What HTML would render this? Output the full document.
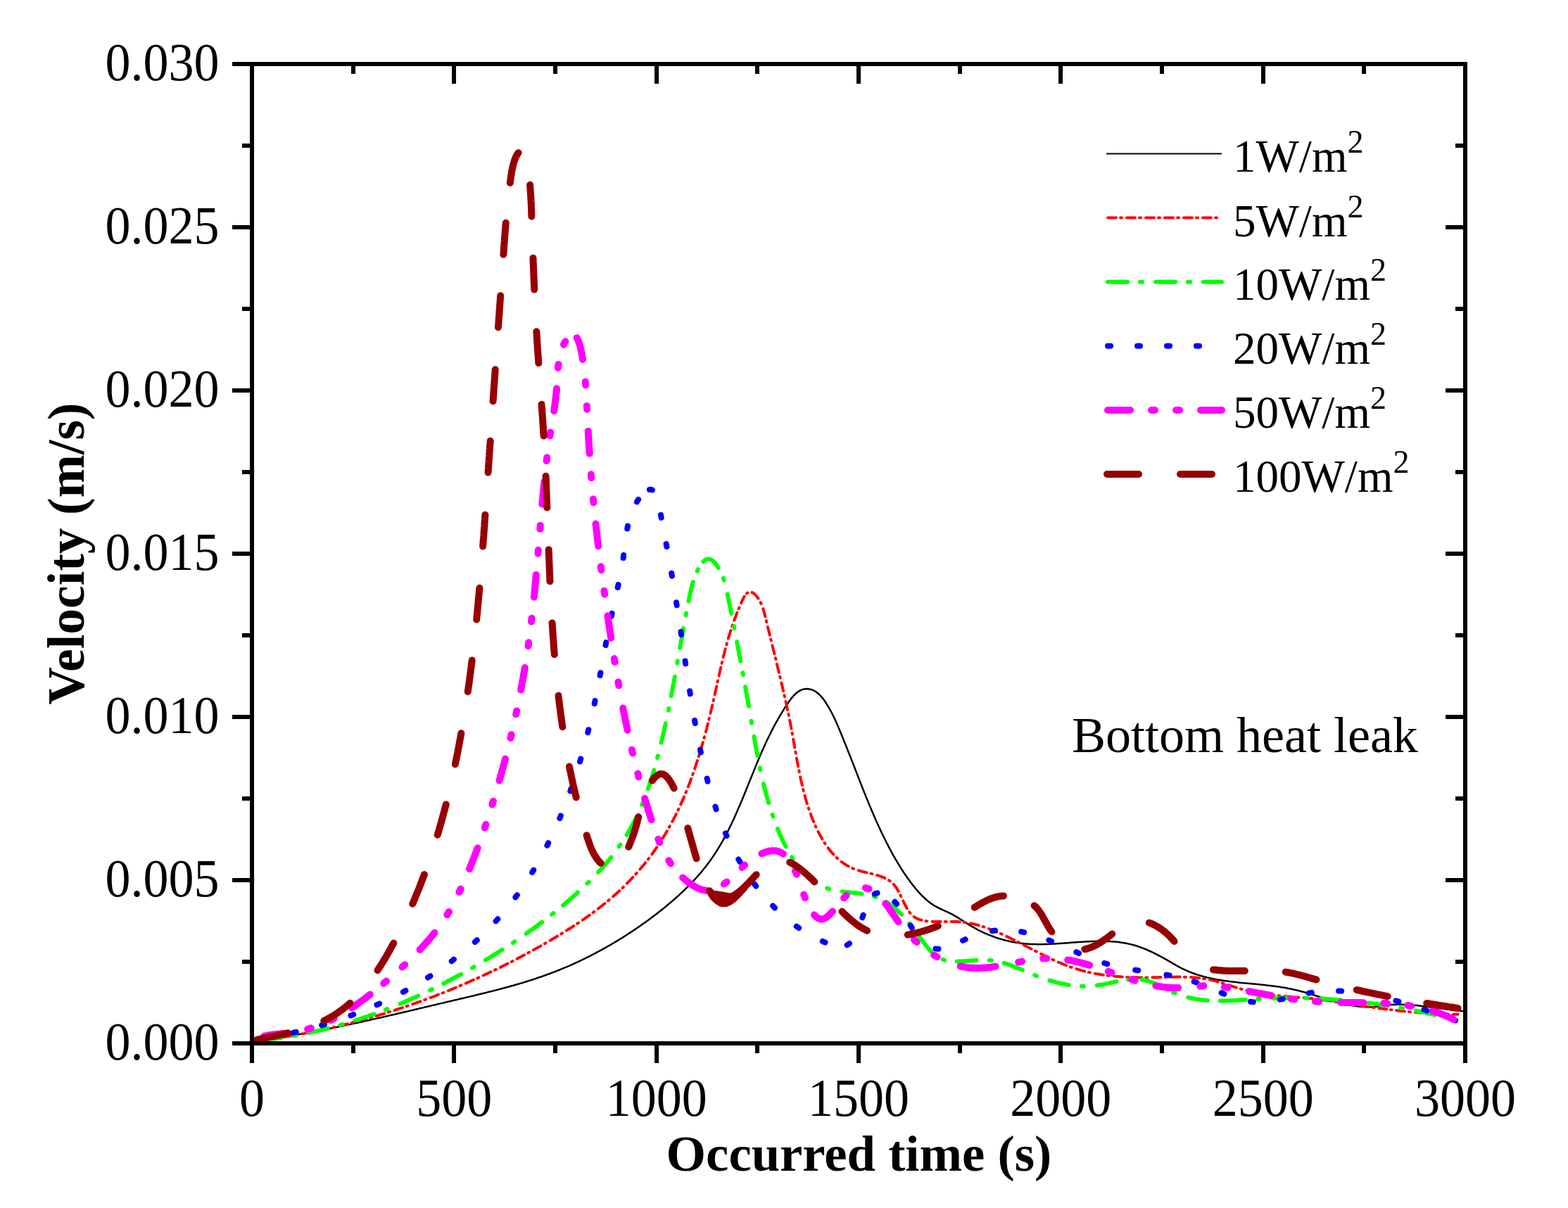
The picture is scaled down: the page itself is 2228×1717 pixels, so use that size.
<!DOCTYPE html>
<html><head><meta charset="utf-8"><style>html,body{margin:0;padding:0;background:#fff;}svg{display:block;}</style></head>
<body>
<svg width="2228" height="1717" viewBox="0 0 2228 1717">
<rect width="2228" height="1717" fill="#fff"/>
<defs><clipPath id="pc"><rect x="358" y="91" width="1724" height="1392"/></clipPath></defs>
<g clip-path="url(#pc)" fill="none" stroke-linejoin="round">
<path d="M360.1 1479.7L362.6 1479.4L365.0 1479.1L367.5 1478.8L370.0 1478.4L372.5 1478.1L375.0 1477.8L377.4 1477.4L379.9 1477.1L382.4 1476.8L384.9 1476.4L387.3 1476.1L389.8 1475.7L392.3 1475.3L394.8 1475.0L397.2 1474.6L399.7 1474.2L402.2 1473.8L404.6 1473.4L407.1 1473.0L409.6 1472.7L412.0 1472.3L414.5 1471.8L417.0 1471.4L419.4 1471.0L421.9 1470.6L424.3 1470.2L426.8 1469.8L429.3 1469.3L431.7 1468.9L434.2 1468.5L436.6 1468.0L439.1 1467.6L441.5 1467.1L444.0 1466.7L446.4 1466.2L448.9 1465.8L451.3 1465.3L453.8 1464.8L456.2 1464.4L458.7 1463.9L461.1 1463.4L463.6 1462.9L466.0 1462.4L468.5 1462.0L470.9 1461.5L473.4 1461.0L475.8 1460.5L478.3 1460.0L480.7 1459.5L483.1 1459.0L485.6 1458.5L488.0 1458.0L490.5 1457.4L492.9 1456.9L495.3 1456.4L497.8 1455.9L500.2 1455.4L502.7 1454.8L505.1 1454.3L507.5 1453.8L510.0 1453.3L512.4 1452.7L514.8 1452.2L517.3 1451.6L519.7 1451.1L522.2 1450.6L524.6 1450.0L527.0 1449.5L529.5 1448.9L531.9 1448.4L534.3 1447.8L536.8 1447.3L539.2 1446.7L541.6 1446.2L544.1 1445.6L546.5 1445.1L548.9 1444.5L551.4 1443.9L553.8 1443.4L556.2 1442.8L558.7 1442.2L561.1 1441.7L563.5 1441.1L566.0 1440.5L568.4 1440.0L570.8 1439.4L573.3 1438.8L575.7 1438.2L578.1 1437.7L580.6 1437.1L583.0 1436.5L585.4 1436.0L587.9 1435.4L590.3 1434.8L592.7 1434.2L595.1 1433.6L597.6 1433.1L600.0 1432.5L602.4 1431.9L604.9 1431.3L607.3 1430.8L609.7 1430.2L612.2 1429.6L614.6 1429.0L617.0 1428.4L619.5 1427.9L621.9 1427.3L624.3 1426.7L626.8 1426.1L629.2 1425.6L631.6 1425.0L634.1 1424.4L636.5 1423.8L639.0 1423.3L641.4 1422.7L643.8 1422.1L646.3 1421.5L648.7 1421.0L651.1 1420.4L653.6 1419.8L656.0 1419.2L658.4 1418.7L660.9 1418.1L663.3 1417.5L665.8 1416.9L668.2 1416.4L670.6 1415.8L673.1 1415.2L675.5 1414.6L677.9 1414.0L680.4 1413.4L682.8 1412.8L685.2 1412.3L687.6 1411.7L690.1 1411.1L692.5 1410.4L694.9 1409.8L697.4 1409.2L699.8 1408.6L702.2 1408.0L704.6 1407.4L707.0 1406.7L709.5 1406.1L711.9 1405.5L714.3 1404.8L716.7 1404.2L719.1 1403.5L721.5 1402.9L723.9 1402.2L726.3 1401.5L728.7 1400.9L731.1 1400.2L733.5 1399.5L735.9 1398.8L738.3 1398.1L740.7 1397.4L743.1 1396.7L745.5 1395.9L747.9 1395.2L750.2 1394.4L752.6 1393.7L755.0 1392.9L757.3 1392.2L759.7 1391.4L762.1 1390.6L764.4 1389.8L766.8 1389.0L769.2 1388.2L771.5 1387.4L773.8 1386.5L776.2 1385.7L778.5 1384.8L780.9 1384.0L783.2 1383.1L785.5 1382.2L787.8 1381.3L790.2 1380.4L792.5 1379.5L794.8 1378.6L797.1 1377.6L799.4 1376.7L801.7 1375.7L804.0 1374.8L806.3 1373.8L808.6 1372.8L810.9 1371.8L813.1 1370.8L815.4 1369.8L817.7 1368.7L820.0 1367.7L822.2 1366.6L824.5 1365.6L826.7 1364.5L829.0 1363.4L831.2 1362.3L833.5 1361.2L835.7 1360.1L837.9 1359.0L840.1 1357.8L842.4 1356.7L844.6 1355.5L846.8 1354.4L849.0 1353.2L851.2 1352.0L853.4 1350.8L855.6 1349.6L857.8 1348.4L859.9 1347.2L862.1 1346.0L864.3 1344.7L866.5 1343.5L868.6 1342.2L870.8 1341.0L872.9 1339.7L875.1 1338.4L877.2 1337.1L879.3 1335.8L881.5 1334.5L883.6 1333.2L885.7 1331.9L887.8 1330.5L889.9 1329.2L892.0 1327.8L894.1 1326.4L896.2 1325.1L898.3 1323.7L900.4 1322.3L902.5 1320.9L904.5 1319.5L906.6 1318.1L908.6 1316.7L910.7 1315.2L912.7 1313.8L914.8 1312.3L916.8 1310.9L918.8 1309.4L920.9 1307.9L922.9 1306.5L924.9 1305.0L926.9 1303.5L928.9 1302.0L930.9 1300.4L932.9 1298.9L934.8 1297.4L936.8 1295.8L938.8 1294.3L940.7 1292.7L942.7 1291.2L944.6 1289.6L946.6 1288.0L948.5 1286.4L950.4 1284.8L952.3 1283.2L954.2 1281.6L956.1 1280.0L958.0 1278.4L959.9 1276.7L961.7 1275.0L963.6 1273.4L965.4 1271.7L967.2 1270.0L969.1 1268.3L970.9 1266.6L972.7 1264.9L974.4 1263.2L976.2 1261.4L978.0 1259.7L979.7 1257.9L981.4 1256.1L983.2 1254.3L984.9 1252.5L986.6 1250.7L988.2 1248.9L989.9 1247.1L991.5 1245.2L993.2 1243.3L994.8 1241.5L996.4 1239.6L998.0 1237.7L999.5 1235.8L1001.1 1233.8L1002.6 1231.9L1004.1 1229.9L1005.6 1228.0L1007.1 1226.0L1008.6 1224.0L1010.0 1222.0L1011.4 1219.9L1012.8 1217.9L1014.2 1215.8L1015.6 1213.8L1016.9 1211.7L1018.3 1209.6L1019.6 1207.5L1020.9 1205.4L1022.2 1203.2L1023.5 1201.1L1024.7 1198.9L1025.9 1196.8L1027.2 1194.6L1028.4 1192.4L1029.6 1190.2L1030.8 1188.0L1031.9 1185.8L1033.1 1183.5L1034.2 1181.3L1035.4 1179.1L1036.5 1176.8L1037.6 1174.6L1038.7 1172.3L1039.8 1170.0L1040.9 1167.7L1041.9 1165.5L1043.0 1163.2L1044.0 1160.9L1045.1 1158.6L1046.1 1156.3L1047.1 1154.0L1048.1 1151.6L1049.1 1149.3L1050.1 1147.0L1051.1 1144.7L1052.1 1142.3L1053.1 1140.0L1054.1 1137.7L1055.1 1135.4L1056.0 1133.0L1057.0 1130.7L1057.9 1128.3L1058.9 1126.0L1059.8 1123.7L1060.8 1121.3L1061.7 1119.0L1062.7 1116.7L1063.6 1114.3L1064.5 1112.0L1065.5 1109.7L1066.4 1107.3L1067.3 1105.0L1068.3 1102.7L1069.2 1100.4L1070.2 1098.1L1071.1 1095.7L1072.0 1093.4L1073.0 1091.1L1073.9 1088.8L1074.8 1086.6L1075.8 1084.3L1076.7 1082.0L1077.7 1079.7L1078.6 1077.5L1079.6 1075.2L1080.6 1072.9L1081.5 1070.7L1082.5 1068.4L1083.5 1066.2L1084.5 1064.0L1085.5 1061.7L1086.5 1059.5L1087.5 1057.3L1088.6 1055.0L1089.6 1052.8L1090.7 1050.6L1091.7 1048.4L1092.8 1046.2L1093.9 1044.0L1095.0 1041.7L1096.1 1039.5L1097.2 1037.3L1098.4 1035.1L1099.5 1032.9L1100.7 1030.7L1101.9 1028.5L1103.1 1026.3L1104.4 1024.1L1105.6 1021.9L1106.9 1019.7L1108.2 1017.5L1109.5 1015.3L1110.8 1013.1L1112.2 1010.9L1113.5 1008.7L1114.9 1006.5L1116.3 1004.2L1117.8 1002.0L1119.3 999.8L1120.8 997.6L1122.3 995.5L1123.9 993.4L1125.5 991.4L1127.1 989.5L1128.8 987.7L1130.5 986.0L1132.3 984.5L1134.2 983.1L1136.1 981.9L1138.0 980.9L1140.1 980.1L1142.1 979.5L1144.3 979.2L1146.5 979.1L1148.8 979.3L1151.1 979.7L1153.4 980.3L1155.6 981.2L1157.8 982.3L1159.9 983.6L1161.9 985.2L1163.8 986.8L1165.6 988.7L1167.4 990.6L1169.1 992.7L1170.7 994.8L1172.3 997.0L1173.8 999.3L1175.2 1001.6L1176.6 1003.9L1178.0 1006.2L1179.3 1008.5L1180.5 1010.7L1181.7 1013.0L1182.9 1015.3L1184.0 1017.5L1185.1 1019.8L1186.1 1022.0L1187.2 1024.3L1188.2 1026.6L1189.2 1028.8L1190.2 1031.1L1191.1 1033.3L1192.1 1035.6L1193.1 1037.9L1194.0 1040.1L1195.0 1042.4L1195.9 1044.7L1196.8 1047.0L1197.8 1049.3L1198.7 1051.6L1199.6 1053.9L1200.5 1056.2L1201.5 1058.4L1202.4 1060.8L1203.3 1063.1L1204.2 1065.4L1205.1 1067.7L1206.0 1070.0L1206.9 1072.3L1207.9 1074.6L1208.8 1076.9L1209.7 1079.2L1210.6 1081.6L1211.5 1083.9L1212.4 1086.2L1213.3 1088.5L1214.2 1090.8L1215.1 1093.2L1216.0 1095.5L1216.9 1097.8L1217.8 1100.1L1218.7 1102.5L1219.6 1104.8L1220.5 1107.1L1221.4 1109.4L1222.3 1111.8L1223.2 1114.1L1224.2 1116.4L1225.1 1118.7L1226.0 1121.1L1226.9 1123.4L1227.8 1125.7L1228.8 1128.0L1229.7 1130.4L1230.6 1132.7L1231.6 1135.0L1232.5 1137.3L1233.5 1139.6L1234.4 1141.9L1235.4 1144.2L1236.3 1146.5L1237.3 1148.8L1238.3 1151.2L1239.3 1153.5L1240.2 1155.7L1241.2 1158.0L1242.2 1160.3L1243.2 1162.6L1244.2 1164.9L1245.2 1167.2L1246.3 1169.5L1247.3 1171.7L1248.3 1174.0L1249.4 1176.3L1250.4 1178.5L1251.5 1180.8L1252.5 1183.1L1253.6 1185.3L1254.7 1187.5L1255.8 1189.8L1256.9 1192.0L1258.0 1194.3L1259.1 1196.5L1260.2 1198.7L1261.4 1200.9L1262.5 1203.1L1263.7 1205.3L1264.9 1207.5L1266.0 1209.7L1267.2 1211.9L1268.4 1214.1L1269.6 1216.3L1270.9 1218.4L1272.1 1220.6L1273.3 1222.7L1274.6 1224.9L1275.9 1227.0L1277.2 1229.1L1278.5 1231.2L1279.8 1233.3L1281.1 1235.4L1282.5 1237.5L1283.8 1239.6L1285.2 1241.6L1286.6 1243.7L1288.0 1245.7L1289.4 1247.7L1290.9 1249.8L1292.4 1251.8L1293.8 1253.7L1295.3 1255.7L1296.8 1257.7L1298.4 1259.6L1299.9 1261.6L1301.5 1263.5L1303.1 1265.4L1304.7 1267.3L1306.4 1269.1L1308.0 1270.9L1309.7 1272.7L1311.5 1274.4L1313.3 1276.1L1315.1 1277.8L1316.9 1279.4L1318.8 1281.0L1320.8 1282.5L1322.7 1284.0L1324.8 1285.4L1326.8 1286.7L1328.9 1288.0L1331.1 1289.2L1333.3 1290.4L1335.6 1291.5L1337.9 1292.5L1340.2 1293.6L1342.5 1294.6L1344.8 1295.6L1347.2 1296.7L1349.4 1297.8L1351.7 1298.9L1353.9 1300.1L1356.1 1301.3L1358.3 1302.6L1360.4 1303.9L1362.6 1305.2L1364.7 1306.6L1366.8 1307.9L1368.9 1309.3L1371.0 1310.6L1373.1 1312.0L1375.2 1313.3L1377.3 1314.6L1379.5 1315.9L1381.6 1317.2L1383.8 1318.4L1385.9 1319.7L1388.1 1320.8L1390.3 1322.0L1392.5 1323.1L1394.8 1324.2L1397.0 1325.3L1399.3 1326.3L1401.6 1327.3L1403.9 1328.3L1406.2 1329.2L1408.5 1330.1L1410.8 1331.0L1413.1 1331.9L1415.5 1332.7L1417.9 1333.5L1420.2 1334.2L1422.6 1334.9L1425.0 1335.6L1427.4 1336.2L1429.8 1336.9L1432.2 1337.4L1434.6 1338.0L1437.1 1338.5L1439.5 1339.0L1442.0 1339.4L1444.4 1339.8L1446.9 1340.2L1449.3 1340.6L1451.8 1340.9L1454.3 1341.1L1456.8 1341.4L1459.2 1341.6L1461.7 1341.7L1464.2 1341.9L1466.7 1342.0L1469.2 1342.1L1471.7 1342.1L1474.2 1342.2L1476.7 1342.2L1479.2 1342.2L1481.8 1342.2L1484.3 1342.1L1486.8 1342.0L1489.3 1341.9L1491.8 1341.8L1494.4 1341.7L1496.9 1341.6L1499.4 1341.5L1501.9 1341.3L1504.5 1341.1L1507.0 1341.0L1509.5 1340.8L1512.1 1340.6L1514.6 1340.4L1517.1 1340.2L1519.6 1340.0L1522.2 1339.8L1524.7 1339.6L1527.2 1339.5L1529.8 1339.3L1532.3 1339.1L1534.8 1338.9L1537.3 1338.7L1539.8 1338.6L1542.4 1338.4L1544.9 1338.3L1547.4 1338.2L1549.9 1338.0L1552.4 1337.9L1554.9 1337.9L1557.4 1337.8L1559.9 1337.8L1562.4 1337.7L1564.9 1337.7L1567.3 1337.7L1569.8 1337.8L1572.3 1337.8L1574.8 1337.9L1577.2 1338.1L1579.7 1338.2L1582.1 1338.4L1584.6 1338.6L1587.0 1338.8L1589.5 1339.1L1591.9 1339.4L1594.3 1339.8L1596.7 1340.2L1599.1 1340.6L1601.5 1341.0L1603.9 1341.6L1606.3 1342.1L1608.7 1342.7L1611.0 1343.3L1613.4 1344.0L1615.7 1344.8L1618.1 1345.5L1620.4 1346.4L1622.7 1347.2L1625.1 1348.1L1627.4 1349.0L1629.7 1350.0L1632.0 1351.0L1634.2 1352.0L1636.5 1353.1L1638.8 1354.2L1641.1 1355.3L1643.3 1356.4L1645.6 1357.6L1647.8 1358.8L1650.0 1360.0L1652.2 1361.2L1654.4 1362.4L1656.7 1363.7L1658.8 1364.9L1661.0 1366.2L1663.2 1367.4L1665.4 1368.7L1667.6 1370.0L1669.7 1371.2L1671.9 1372.5L1674.1 1373.7L1676.3 1374.9L1678.5 1376.0L1680.7 1377.1L1682.9 1378.2L1685.2 1379.2L1687.4 1380.2L1689.7 1381.2L1692.0 1382.1L1694.3 1383.0L1696.6 1383.8L1698.9 1384.6L1701.2 1385.4L1703.5 1386.1L1705.9 1386.8L1708.2 1387.5L1710.6 1388.2L1713.0 1388.8L1715.4 1389.4L1717.8 1389.9L1720.2 1390.5L1722.6 1391.0L1725.0 1391.4L1727.4 1391.9L1729.9 1392.4L1732.3 1392.8L1734.8 1393.2L1737.2 1393.6L1739.7 1393.9L1742.1 1394.3L1744.6 1394.6L1747.1 1395.0L1749.6 1395.3L1752.1 1395.6L1754.5 1395.8L1757.0 1396.1L1759.5 1396.4L1762.0 1396.7L1764.5 1396.9L1767.0 1397.2L1769.6 1397.4L1772.1 1397.6L1774.6 1397.9L1777.1 1398.1L1779.6 1398.4L1782.1 1398.6L1784.6 1398.8L1787.2 1399.1L1789.7 1399.3L1792.2 1399.6L1794.7 1399.8L1797.2 1400.1L1799.7 1400.4L1802.2 1400.7L1804.7 1401.0L1807.3 1401.3L1809.8 1401.6L1812.3 1401.9L1814.8 1402.3L1817.2 1402.6L1819.7 1403.0L1822.2 1403.4L1824.7 1403.8L1827.2 1404.2L1829.6 1404.7L1832.1 1405.2L1834.6 1405.7L1837.0 1406.2L1839.5 1406.8L1841.9 1407.3L1844.3 1407.9L1846.8 1408.5L1849.2 1409.2L1851.6 1409.8L1854.0 1410.5L1856.4 1411.2L1858.8 1411.9L1861.2 1412.6L1863.6 1413.3L1866.0 1414.1L1868.4 1414.8L1870.8 1415.6L1873.1 1416.3L1875.5 1417.1L1877.9 1417.8L1880.3 1418.5L1882.7 1419.3L1885.0 1420.0L1887.4 1420.7L1889.8 1421.4L1892.2 1422.1L1894.5 1422.8L1896.9 1423.5L1899.3 1424.2L1901.7 1424.8L1904.1 1425.4L1906.4 1426.0L1908.8 1426.6L1911.2 1427.2L1913.6 1427.7L1916.0 1428.2L1918.4 1428.7L1920.8 1429.1L1923.2 1429.5L1925.7 1429.8L1928.1 1430.2L1930.5 1430.5L1932.9 1430.7L1935.4 1430.9L1937.8 1431.1L1940.3 1431.2L1942.7 1431.3L1945.2 1431.3L1947.7 1431.2L1950.2 1431.2L1952.7 1431.0L1955.2 1430.8L1957.7 1430.6L1960.2 1430.3L1962.8 1429.9L1965.3 1429.5L1967.8 1429.2L1970.3 1428.8L1972.9 1428.5L1975.4 1428.3L1977.9 1428.1L1980.3 1428.0L1982.8 1427.9L1985.3 1427.8L1987.8 1427.8L1990.2 1427.8L1992.7 1427.8L1995.2 1427.9L1997.6 1428.0L2000.1 1428.1L2002.5 1428.3L2005.0 1428.5L2007.5 1428.6L2009.9 1428.9L2012.4 1429.1L2014.8 1429.3L2017.3 1429.6L2019.8 1429.9L2022.2 1430.2L2024.7 1430.5L2027.2 1430.8L2029.7 1431.1L2032.1 1431.4L2034.6 1431.8L2037.1 1432.1L2039.6 1432.4L2042.1 1432.8L2044.5 1433.1L2047.0 1433.4L2049.5 1433.8L2052.0 1434.1L2054.5 1434.4L2057.0 1434.8L2059.5 1435.1L2061.9 1435.4L2064.4 1435.7L2066.9 1436.0L2069.4 1436.2L2071.9 1436.5L2074.3 1436.7L2076.8 1437.0L2079.3 1437.2" stroke="#000000" stroke-width="2.5" stroke-linecap="butt"/>
<path d="M360.5 1479.9L362.9 1479.6L365.4 1479.3L367.8 1479.0L370.3 1478.7L372.8 1478.4L375.2 1478.1L377.7 1477.8L380.1 1477.5L382.6 1477.1L385.0 1476.8L387.5 1476.4L390.0 1476.1L392.4 1475.7L394.9 1475.3L397.3 1475.0L399.8 1474.6L402.2 1474.2L404.7 1473.8L407.1 1473.4L409.6 1473.0L412.0 1472.6L414.5 1472.2L416.9 1471.7L419.4 1471.3L421.8 1470.9L424.3 1470.4L426.7 1470.0L429.2 1469.5L431.6 1469.1L434.1 1468.6L436.5 1468.1L439.0 1467.7L441.4 1467.2L443.8 1466.7L446.3 1466.2L448.7 1465.7L451.2 1465.2L453.6 1464.7L456.0 1464.1L458.5 1463.6L460.9 1463.1L463.3 1462.5L465.8 1462.0L468.2 1461.4L470.6 1460.9L473.1 1460.3L475.5 1459.8L477.9 1459.2L480.3 1458.6L482.8 1458.0L485.2 1457.4L487.6 1456.8L490.0 1456.2L492.5 1455.6L494.9 1455.0L497.3 1454.4L499.7 1453.8L502.1 1453.1L504.5 1452.5L507.0 1451.8L509.4 1451.2L511.8 1450.5L514.2 1449.9L516.6 1449.2L519.0 1448.5L521.4 1447.9L523.8 1447.2L526.2 1446.5L528.6 1445.8L531.0 1445.1L533.4 1444.4L535.8 1443.7L538.2 1443.0L540.6 1442.2L543.0 1441.5L545.4 1440.8L547.8 1440.0L550.2 1439.3L552.6 1438.5L554.9 1437.8L557.3 1437.0L559.7 1436.3L562.1 1435.5L564.5 1434.7L566.8 1433.9L569.2 1433.1L571.6 1432.4L574.0 1431.6L576.3 1430.7L578.7 1429.9L581.1 1429.1L583.4 1428.3L585.8 1427.5L588.1 1426.6L590.5 1425.8L592.9 1425.0L595.2 1424.1L597.6 1423.3L599.9 1422.4L602.3 1421.5L604.6 1420.7L607.0 1419.8L609.3 1418.9L611.7 1418.0L614.0 1417.1L616.3 1416.3L618.7 1415.4L621.0 1414.4L623.3 1413.5L625.7 1412.6L628.0 1411.7L630.3 1410.8L632.6 1409.8L635.0 1408.9L637.3 1408.0L639.6 1407.0L641.9 1406.1L644.2 1405.1L646.5 1404.1L648.8 1403.2L651.1 1402.2L653.4 1401.2L655.7 1400.2L658.0 1399.3L660.3 1398.3L662.6 1397.3L664.9 1396.3L667.2 1395.3L669.5 1394.2L671.8 1393.2L674.1 1392.2L676.3 1391.2L678.6 1390.2L680.9 1389.1L683.2 1388.1L685.4 1387.0L687.7 1386.0L690.0 1384.9L692.2 1383.9L694.5 1382.8L696.7 1381.7L699.0 1380.6L701.3 1379.6L703.5 1378.5L705.7 1377.4L708.0 1376.3L710.2 1375.2L712.5 1374.1L714.7 1373.0L716.9 1371.9L719.2 1370.7L721.4 1369.6L723.6 1368.5L725.8 1367.4L728.1 1366.2L730.3 1365.1L732.5 1363.9L734.7 1362.8L736.9 1361.6L739.1 1360.5L741.3 1359.3L743.5 1358.1L745.7 1357.0L747.9 1355.8L750.1 1354.6L752.3 1353.4L754.5 1352.2L756.6 1351.0L758.8 1349.8L761.0 1348.6L763.2 1347.4L765.3 1346.2L767.5 1345.0L769.7 1343.7L771.8 1342.5L774.0 1341.3L776.1 1340.0L778.3 1338.8L780.4 1337.5L782.6 1336.3L784.7 1335.0L786.8 1333.8L789.0 1332.5L791.1 1331.2L793.2 1329.9L795.3 1328.7L797.4 1327.4L799.5 1326.1L801.7 1324.8L803.8 1323.5L805.8 1322.1L807.9 1320.8L810.0 1319.5L812.1 1318.2L814.2 1316.8L816.2 1315.5L818.3 1314.1L820.3 1312.7L822.4 1311.4L824.4 1310.0L826.5 1308.6L828.5 1307.2L830.5 1305.8L832.5 1304.4L834.5 1303.0L836.5 1301.5L838.5 1300.1L840.5 1298.6L842.5 1297.2L844.5 1295.7L846.4 1294.3L848.4 1292.8L850.3 1291.3L852.3 1289.8L854.2 1288.3L856.1 1286.7L858.1 1285.2L860.0 1283.7L861.9 1282.1L863.7 1280.5L865.6 1279.0L867.5 1277.4L869.4 1275.8L871.2 1274.2L873.0 1272.5L874.9 1270.9L876.7 1269.3L878.5 1267.6L880.3 1265.9L882.1 1264.3L883.9 1262.6L885.6 1260.9L887.4 1259.2L889.2 1257.4L890.9 1255.7L892.6 1253.9L894.3 1252.2L896.0 1250.4L897.7 1248.6L899.4 1246.8L901.1 1245.0L902.7 1243.2L904.4 1241.3L906.0 1239.5L907.6 1237.6L909.2 1235.7L910.8 1233.9L912.4 1232.0L914.0 1230.1L915.6 1228.2L917.1 1226.2L918.6 1224.3L920.2 1222.4L921.7 1220.4L923.2 1218.4L924.6 1216.5L926.1 1214.5L927.6 1212.5L929.0 1210.5L930.4 1208.5L931.8 1206.4L933.2 1204.4L934.6 1202.4L936.0 1200.3L937.3 1198.3L938.7 1196.2L940.0 1194.1L941.3 1192.0L942.6 1189.9L943.9 1187.8L945.2 1185.7L946.4 1183.6L947.7 1181.5L948.9 1179.3L950.1 1177.2L951.3 1175.0L952.5 1172.9L953.7 1170.7L954.9 1168.5L956.0 1166.4L957.2 1164.2L958.3 1162.0L959.4 1159.8L960.5 1157.6L961.6 1155.3L962.7 1153.1L963.7 1150.9L964.8 1148.6L965.8 1146.4L966.9 1144.2L967.9 1141.9L968.9 1139.6L969.9 1137.4L970.9 1135.1L971.9 1132.8L972.8 1130.5L973.8 1128.2L974.7 1125.9L975.7 1123.6L976.6 1121.3L977.5 1119.0L978.4 1116.7L979.3 1114.4L980.2 1112.1L981.1 1109.7L981.9 1107.4L982.8 1105.1L983.7 1102.7L984.5 1100.4L985.3 1098.0L986.1 1095.6L986.9 1093.3L987.8 1090.9L988.5 1088.5L989.3 1086.2L990.1 1083.8L990.9 1081.4L991.6 1079.0L992.4 1076.6L993.1 1074.3L993.9 1071.9L994.6 1069.5L995.3 1067.1L996.0 1064.7L996.7 1062.3L997.4 1059.9L998.1 1057.4L998.8 1055.0L999.5 1052.6L1000.2 1050.2L1000.8 1047.8L1001.5 1045.4L1002.1 1042.9L1002.8 1040.5L1003.4 1038.1L1004.1 1035.7L1004.7 1033.2L1005.3 1030.8L1005.9 1028.4L1006.5 1025.9L1007.1 1023.5L1007.7 1021.1L1008.3 1018.6L1008.9 1016.2L1009.5 1013.8L1010.1 1011.3L1010.7 1008.9L1011.2 1006.5L1011.8 1004.0L1012.4 1001.6L1012.9 999.2L1013.5 996.7L1014.0 994.3L1014.6 991.9L1015.1 989.4L1015.7 987.0L1016.2 984.5L1016.7 982.1L1017.3 979.7L1017.8 977.2L1018.4 974.8L1018.9 972.4L1019.4 969.9L1020.0 967.5L1020.5 965.1L1021.0 962.7L1021.6 960.2L1022.1 957.8L1022.7 955.4L1023.2 952.9L1023.8 950.5L1024.4 948.1L1024.9 945.7L1025.5 943.2L1026.1 940.8L1026.7 938.4L1027.2 936.0L1027.8 933.6L1028.4 931.1L1029.1 928.7L1029.7 926.3L1030.3 923.9L1030.9 921.5L1031.6 919.1L1032.2 916.7L1032.9 914.3L1033.6 911.8L1034.3 909.4L1035.0 907.0L1035.7 904.6L1036.4 902.2L1037.2 899.8L1037.9 897.4L1038.7 895.0L1039.5 892.6L1040.3 890.2L1041.1 887.9L1041.9 885.5L1042.7 883.1L1043.6 880.7L1044.5 878.3L1045.4 875.9L1046.3 873.5L1047.2 871.2L1048.1 868.8L1049.1 866.4L1050.1 864.1L1051.1 861.7L1052.1 859.3L1053.2 857.0L1054.2 854.6L1055.3 852.2L1056.4 849.9L1057.6 847.8L1058.9 845.8L1060.2 844.2L1061.7 842.8L1063.3 842.0L1065.1 841.5L1066.9 841.6L1068.8 842.1L1070.6 843.1L1072.4 844.5L1074.1 846.3L1075.8 848.3L1077.3 850.5L1078.8 852.9L1080.1 855.3L1081.3 857.7L1082.3 860.1L1083.3 862.6L1084.2 865.0L1085.0 867.5L1085.7 869.9L1086.4 872.4L1087.0 874.8L1087.6 877.3L1088.2 879.7L1088.8 882.2L1089.4 884.6L1089.9 887.0L1090.5 889.5L1091.1 891.9L1091.7 894.3L1092.3 896.8L1092.9 899.2L1093.5 901.6L1094.1 904.1L1094.7 906.5L1095.3 908.9L1095.9 911.3L1096.5 913.8L1097.1 916.2L1097.7 918.6L1098.3 921.0L1098.9 923.4L1099.5 925.8L1100.1 928.3L1100.7 930.7L1101.3 933.1L1101.9 935.5L1102.5 937.9L1103.0 940.3L1103.6 942.7L1104.2 945.1L1104.8 947.5L1105.4 950.0L1106.0 952.4L1106.6 954.8L1107.2 957.2L1107.8 959.6L1108.3 962.0L1108.9 964.4L1109.5 966.8L1110.1 969.2L1110.6 971.6L1111.2 974.0L1111.8 976.4L1112.3 978.9L1112.9 981.3L1113.5 983.7L1114.0 986.1L1114.6 988.5L1115.1 990.9L1115.7 993.3L1116.2 995.8L1116.7 998.2L1117.3 1000.6L1117.8 1003.0L1118.3 1005.4L1118.8 1007.9L1119.4 1010.3L1119.9 1012.7L1120.4 1015.2L1120.9 1017.6L1121.4 1020.0L1121.9 1022.5L1122.4 1024.9L1122.9 1027.3L1123.3 1029.8L1123.8 1032.2L1124.3 1034.7L1124.7 1037.1L1125.2 1039.6L1125.6 1042.0L1126.1 1044.5L1126.5 1047.0L1127.0 1049.4L1127.4 1051.9L1127.8 1054.3L1128.3 1056.8L1128.7 1059.3L1129.1 1061.7L1129.6 1064.2L1130.0 1066.7L1130.5 1069.1L1130.9 1071.6L1131.3 1074.1L1131.8 1076.5L1132.2 1079.0L1132.7 1081.4L1133.1 1083.9L1133.6 1086.4L1134.0 1088.8L1134.5 1091.3L1135.0 1093.7L1135.5 1096.2L1136.0 1098.6L1136.5 1101.1L1137.0 1103.5L1137.5 1106.0L1138.0 1108.4L1138.6 1110.8L1139.1 1113.3L1139.7 1115.7L1140.2 1118.1L1140.8 1120.5L1141.4 1122.9L1142.0 1125.3L1142.7 1127.7L1143.3 1130.1L1144.0 1132.5L1144.6 1134.9L1145.3 1137.3L1146.0 1139.7L1146.7 1142.0L1147.5 1144.4L1148.2 1146.8L1149.0 1149.1L1149.8 1151.5L1150.6 1153.8L1151.5 1156.1L1152.3 1158.4L1153.2 1160.7L1154.1 1163.0L1155.0 1165.3L1156.0 1167.6L1156.9 1169.9L1157.9 1172.2L1158.9 1174.4L1160.0 1176.7L1161.0 1178.9L1162.1 1181.2L1163.3 1183.4L1164.4 1185.6L1165.6 1187.8L1166.8 1190.0L1168.0 1192.1L1169.3 1194.2L1170.6 1196.4L1171.9 1198.4L1173.3 1200.5L1174.7 1202.5L1176.1 1204.5L1177.6 1206.5L1179.1 1208.4L1180.7 1210.3L1182.3 1212.2L1183.9 1214.0L1185.5 1215.8L1187.3 1217.5L1189.0 1219.2L1190.8 1220.8L1192.6 1222.4L1194.5 1223.9L1196.4 1225.4L1198.4 1226.8L1200.4 1228.2L1202.4 1229.5L1204.6 1230.7L1206.7 1231.9L1208.9 1233.0L1211.2 1234.0L1213.5 1235.0L1215.8 1235.9L1218.2 1236.7L1220.7 1237.5L1223.2 1238.2L1225.7 1238.9L1228.2 1239.5L1230.8 1240.1L1233.3 1240.7L1235.9 1241.3L1238.4 1241.9L1241.0 1242.6L1243.5 1243.2L1246.0 1243.9L1248.4 1244.6L1250.8 1245.4L1253.2 1246.3L1255.5 1247.2L1257.7 1248.2L1259.9 1249.3L1261.9 1250.5L1263.9 1251.8L1265.8 1253.2L1267.6 1254.8L1269.3 1256.5L1270.9 1258.3L1272.4 1260.3L1273.9 1262.3L1275.2 1264.5L1276.5 1266.7L1277.7 1269.0L1278.9 1271.4L1280.1 1273.8L1281.2 1276.2L1282.3 1278.6L1283.5 1281.0L1284.6 1283.4L1285.8 1285.7L1287.0 1288.0L1288.2 1290.3L1289.5 1292.5L1290.8 1294.5L1292.3 1296.5L1293.8 1298.4L1295.3 1300.1L1297.0 1301.7L1298.9 1303.1L1300.8 1304.4L1302.8 1305.5L1304.9 1306.4L1307.2 1307.2L1309.5 1307.9L1311.9 1308.5L1314.3 1309.0L1316.8 1309.3L1319.4 1309.6L1322.0 1309.8L1324.6 1310.0L1327.3 1310.1L1330.0 1310.1L1332.6 1310.1L1335.3 1310.1L1338.0 1310.0L1340.6 1309.9L1343.2 1309.9L1345.8 1309.9L1348.4 1309.8L1350.9 1309.8L1353.3 1309.9L1355.8 1309.9L1358.1 1310.0L1360.5 1310.1L1362.8 1310.3L1365.1 1310.5L1367.4 1310.7L1369.7 1311.0L1372.0 1311.2L1374.2 1311.6L1376.4 1312.0L1378.7 1312.4L1380.9 1312.8L1383.2 1313.3L1385.4 1313.8L1387.7 1314.4L1389.9 1315.0L1392.2 1315.7L1394.5 1316.4L1396.7 1317.1L1399.0 1317.8L1401.2 1318.6L1403.5 1319.4L1405.8 1320.3L1408.0 1321.1L1410.3 1322.0L1412.6 1323.0L1414.8 1323.9L1417.1 1324.9L1419.4 1325.9L1421.6 1326.9L1423.9 1327.9L1426.2 1328.9L1428.4 1330.0L1430.7 1331.1L1432.9 1332.1L1435.2 1333.2L1437.4 1334.4L1439.7 1335.5L1441.9 1336.6L1444.2 1337.7L1446.4 1338.9L1448.7 1340.0L1450.9 1341.2L1453.1 1342.3L1455.4 1343.5L1457.6 1344.7L1459.9 1345.8L1462.1 1347.0L1464.3 1348.1L1466.6 1349.3L1468.8 1350.5L1471.1 1351.6L1473.3 1352.8L1475.5 1353.9L1477.8 1355.1L1480.0 1356.2L1482.3 1357.3L1484.6 1358.4L1486.8 1359.6L1489.1 1360.7L1491.3 1361.7L1493.6 1362.8L1495.9 1363.9L1498.2 1364.9L1500.4 1366.0L1502.7 1367.0L1505.0 1368.0L1507.3 1368.9L1509.6 1369.9L1511.9 1370.8L1514.2 1371.8L1516.5 1372.7L1518.9 1373.5L1521.2 1374.4L1523.5 1375.2L1525.9 1376.0L1528.2 1376.8L1530.6 1377.5L1533.0 1378.2L1535.3 1378.9L1537.7 1379.6L1540.1 1380.2L1542.5 1380.8L1544.9 1381.4L1547.3 1382.0L1549.7 1382.5L1552.2 1383.0L1554.6 1383.5L1557.0 1384.0L1559.5 1384.4L1561.9 1384.8L1564.4 1385.2L1566.8 1385.6L1569.3 1386.0L1571.7 1386.3L1574.2 1386.6L1576.7 1386.9L1579.2 1387.2L1581.6 1387.5L1584.1 1387.7L1586.6 1387.9L1589.1 1388.1L1591.6 1388.3L1594.1 1388.5L1596.6 1388.6L1599.1 1388.8L1601.6 1388.9L1604.1 1389.0L1606.6 1389.1L1609.2 1389.2L1611.7 1389.3L1614.2 1389.3L1616.7 1389.4L1619.2 1389.4L1621.8 1389.4L1624.3 1389.4L1626.8 1389.4L1629.3 1389.4L1631.8 1389.4L1634.4 1389.4L1636.9 1389.3L1639.4 1389.3L1641.9 1389.2L1644.4 1389.2L1647.0 1389.1L1649.5 1389.1L1652.0 1389.0L1654.5 1388.9L1657.0 1388.9L1659.5 1388.8L1662.1 1388.8L1664.6 1388.7L1667.1 1388.7L1669.6 1388.7L1672.1 1388.6L1674.6 1388.6L1677.1 1388.6L1679.6 1388.7L1682.1 1388.7L1684.6 1388.8L1687.1 1388.9L1689.5 1389.0L1692.0 1389.1L1694.5 1389.3L1697.0 1389.4L1699.4 1389.6L1701.9 1389.9L1704.4 1390.2L1706.8 1390.5L1709.3 1390.8L1711.7 1391.2L1714.2 1391.6L1716.6 1392.0L1719.0 1392.5L1721.5 1393.1L1723.9 1393.6L1726.3 1394.2L1728.7 1394.9L1731.1 1395.6L1733.5 1396.3L1735.9 1397.0L1738.3 1397.7L1740.7 1398.5L1743.1 1399.3L1745.5 1400.0L1747.9 1400.8L1750.3 1401.6L1752.7 1402.4L1755.1 1403.2L1757.5 1403.9L1759.9 1404.7L1762.3 1405.4L1764.7 1406.1L1767.2 1406.8L1769.6 1407.4L1772.0 1408.1L1774.4 1408.7L1776.9 1409.2L1779.3 1409.8L1781.7 1410.3L1784.2 1410.7L1786.6 1411.2L1789.1 1411.6L1791.5 1412.0L1794.0 1412.4L1796.4 1412.8L1798.9 1413.1L1801.4 1413.5L1803.8 1413.8L1806.3 1414.1L1808.8 1414.4L1811.3 1414.6L1813.7 1414.9L1816.2 1415.2L1818.7 1415.4L1821.2 1415.6L1823.6 1415.8L1826.1 1416.1L1828.6 1416.3L1831.1 1416.5L1833.6 1416.7L1836.1 1416.9L1838.5 1417.1L1841.0 1417.3L1843.5 1417.5L1846.0 1417.7L1848.5 1417.9L1851.0 1418.1L1853.5 1418.3L1855.9 1418.5L1858.4 1418.8L1860.9 1419.0L1863.4 1419.2L1865.9 1419.5L1868.3 1419.8L1870.8 1420.1L1873.3 1420.4L1875.8 1420.7L1878.2 1421.0L1880.7 1421.3L1883.2 1421.6L1885.6 1422.0L1888.1 1422.3L1890.6 1422.7L1893.0 1423.0L1895.5 1423.4L1898.0 1423.8L1900.4 1424.2L1902.9 1424.5L1905.3 1424.9L1907.8 1425.3L1910.3 1425.7L1912.7 1426.1L1915.2 1426.5L1917.6 1426.9L1920.1 1427.3L1922.6 1427.7L1925.0 1428.1L1927.5 1428.4L1930.0 1428.8L1932.4 1429.2L1934.9 1429.6L1937.4 1430.0L1939.8 1430.3L1942.3 1430.7L1944.8 1431.1L1947.2 1431.4L1949.7 1431.8L1952.2 1432.1L1954.6 1432.5L1957.1 1432.8L1959.6 1433.2L1962.0 1433.5L1964.5 1433.8L1967.0 1434.1L1969.5 1434.4L1971.9 1434.7L1974.4 1435.0L1976.9 1435.3L1979.4 1435.6L1981.9 1435.9L1984.3 1436.2L1986.8 1436.5L1989.3 1436.7L1991.8 1437.0L1994.3 1437.2L1996.7 1437.5L1999.2 1437.7L2001.7 1438.0L2004.2 1438.2L2006.7 1438.4L2009.2 1438.6L2011.7 1438.9L2014.1 1439.1L2016.6 1439.3L2019.1 1439.4L2021.6 1439.6L2024.1 1439.8L2026.6 1440.0L2029.1 1440.1L2031.6 1440.3L2034.1 1440.4L2036.6 1440.6L2039.1 1440.7L2041.6 1440.8L2044.1 1441.0L2046.6 1441.1L2049.1 1441.2L2051.6 1441.3L2054.1 1441.3L2056.6 1441.4L2059.1 1441.5L2061.6 1441.6L2064.1 1441.6L2066.6 1441.7L2069.1 1441.7L2071.6 1441.7" stroke="#ff0000" stroke-width="4" stroke-linecap="round" stroke-dasharray="2.0 7.0 12.0 6.0 2.0 7.0 12.0 6.0 2.0 7.0 12.0 6.0 2.0 7.0 12.0 6.0 2.0 7.0 12.1 6.0 2.0 7.0 12.1 6.0 2.0 7.0 12.1 6.0 2.0 7.0 12.1 6.0 2.0 7.0 12.1 6.0 2.0 7.0 12.1 6.0 2.0 7.0 12.1 6.0 2.0 7.0 12.1 6.0 2.0 7.0 12.1 6.0 2.0 7.0 11.8 5.9 2.0 6.9 11.7 5.9 2.0 6.8 12.1 6.1 2.0 7.1 12.1 6.1 2.0 7.1 12.1 6.1 2.0 7.1 12.1 6.1 2.0 7.1 12.1 6.1 2.0 7.1 12.1 6.1 2.0 7.1 12.1 6.1 2.0 7.1 12.1 6.1 2.0 7.1 12.1 6.1 2.0 7.1 12.1 6.1 2.0 7.1 12.1 6.1 2.0 7.1 12.1 6.1 2.0 7.1 12.1 6.1 2.0 7.1 12.1 6.1 2.0 7.1 12.1 6.1 2.0 7.1 12.1 6.1 2.0 7.1 12.1 6.1 2.0 7.1 12.1 6.1 2.0 7.1 12.1 6.1 2.0 7.1 12.1 6.1 2.0 7.1 12.1 6.1 2.0 7.1 11.7 5.9 2.0 6.8 10.6 5.3 1.8 6.2 12.9 6.4 2.1 7.5 11.8 5.9 2.0 6.9 12.1 6.1 2.0 7.1 12.1 6.1 2.0 7.1 12.1 6.1 2.0 7.1 12.1 6.1 2.0 7.1 12.1 6.1 2.0 7.1 12.1 6.1 2.0 7.1 12.1 6.1 2.0 7.1 12.1 6.1 2.0 7.1 12.1 6.1 2.0 7.1 12.1 6.1 2.0 7.1 12.1 6.1 2.0 7.1 12.1 6.1 2.0 7.1 12.1 6.1 2.0 7.1 12.1 6.1 2.0 7.1 12.1 6.1 2.0 7.1 12.1 6.1 2.0 7.1 12.1 6.1 2.0 7.1 12.1 6.1 2.0 7.1 12.1 6.1 2.0 7.1 12.1 6.1 2.0 7.1 12.1 6.1 2.0 7.1 12.1 6.1 2.0 7.1 12.1 6.1 2.0 7.1 12.1 6.1 2.0 7.1 12.3 6.2 2.1 7.2 12.1 6.0 2.0 7.1 12.2 6.1 2.0 7.1 12.1 6.1 2.0 7.1 12.1 6.1 2.0 7.1 12.1 6.1 2.0 7.1 12.1 6.1 2.0 7.1 12.1 6.1 2.0 7.1 12.1 6.1 2.0 7.1 12.1 6.1 2.0 7.1 12.1 6.1 2.0 7.1 12.1 6.1 2.0 7.1 12.1 6.1 2.0 7.1 12.1 6.1 2.0 7.1 12.1 6.1 2.0 7.1 12.1 6.1 2.0 7.1 12.1 6.1 2.0 7.1 12.1 6.1 2.0 7.1 11.5 5.8 1.9 6.7 11.1 5.5 1.8 6.5 12.0 6.0 2.0 7.0 12.0 6.0 2.0 7.0 12.0 6.0 2.0 7.0 9.5 2490.6" stroke-dashoffset="4865.2"/>
<path d="M360.1 1479.2L362.6 1479.0L365.1 1478.8L367.6 1478.6L370.1 1478.4L372.6 1478.1L375.1 1477.9L377.6 1477.6L380.1 1477.4L382.5 1477.1L385.0 1476.8L387.5 1476.5L390.0 1476.2L392.5 1475.9L394.9 1475.6L397.4 1475.2L399.9 1474.9L402.3 1474.5L404.8 1474.2L407.3 1473.8L409.7 1473.4L412.2 1473.0L414.7 1472.6L417.1 1472.2L419.6 1471.7L422.0 1471.3L424.5 1470.8L426.9 1470.4L429.4 1469.9L431.8 1469.4L434.3 1468.9L436.7 1468.4L439.2 1467.9L441.6 1467.4L444.0 1466.9L446.5 1466.3L448.9 1465.8L451.3 1465.2L453.7 1464.6L456.2 1464.1L458.6 1463.5L461.0 1462.9L463.4 1462.3L465.9 1461.7L468.3 1461.0L470.7 1460.4L473.1 1459.8L475.5 1459.1L477.9 1458.4L480.3 1457.8L482.7 1457.1L485.1 1456.4L487.5 1455.7L489.9 1455.0L492.3 1454.3L494.7 1453.6L497.1 1452.8L499.4 1452.1L501.8 1451.4L504.2 1450.6L506.6 1449.8L508.9 1449.1L511.3 1448.3L513.7 1447.5L516.1 1446.7L518.4 1445.9L520.8 1445.1L523.1 1444.3L525.5 1443.4L527.9 1442.6L530.2 1441.7L532.6 1440.9L534.9 1440.0L537.2 1439.2L539.6 1438.3L541.9 1437.4L544.3 1436.5L546.6 1435.6L548.9 1434.7L551.2 1433.8L553.6 1432.9L555.9 1431.9L558.2 1431.0L560.5 1430.1L562.8 1429.1L565.2 1428.1L567.5 1427.2L569.8 1426.2L572.1 1425.2L574.4 1424.2L576.7 1423.2L579.0 1422.2L581.3 1421.2L583.6 1420.2L585.8 1419.2L588.1 1418.2L590.4 1417.2L592.7 1416.1L595.0 1415.1L597.2 1414.0L599.5 1413.0L601.8 1411.9L604.0 1410.8L606.3 1409.7L608.5 1408.7L610.8 1407.6L613.0 1406.5L615.3 1405.4L617.5 1404.3L619.8 1403.1L622.0 1402.0L624.3 1400.9L626.5 1399.8L628.7 1398.6L630.9 1397.5L633.2 1396.3L635.4 1395.2L637.6 1394.0L639.8 1392.9L642.0 1391.7L644.2 1390.5L646.4 1389.3L648.6 1388.2L650.8 1387.0L653.0 1385.8L655.2 1384.6L657.4 1383.4L659.6 1382.1L661.8 1380.9L664.0 1379.7L666.1 1378.5L668.3 1377.2L670.5 1376.0L672.6 1374.8L674.8 1373.5L677.0 1372.3L679.1 1371.0L681.3 1369.8L683.4 1368.5L685.5 1367.2L687.7 1366.0L689.8 1364.7L692.0 1363.4L694.1 1362.1L696.2 1360.8L698.3 1359.5L700.5 1358.2L702.6 1356.9L704.7 1355.6L706.8 1354.3L708.9 1352.9L711.0 1351.6L713.1 1350.3L715.2 1348.9L717.3 1347.6L719.4 1346.2L721.4 1344.9L723.5 1343.5L725.6 1342.1L727.7 1340.8L729.7 1339.4L731.8 1338.0L733.9 1336.6L735.9 1335.2L738.0 1333.8L740.0 1332.4L742.1 1331.0L744.1 1329.5L746.1 1328.1L748.2 1326.7L750.2 1325.2L752.2 1323.8L754.2 1322.3L756.3 1320.9L758.3 1319.4L760.3 1318.0L762.3 1316.5L764.3 1315.0L766.3 1313.5L768.3 1312.0L770.3 1310.5L772.2 1309.0L774.2 1307.5L776.2 1306.0L778.2 1304.4L780.1 1302.9L782.1 1301.4L784.0 1299.8L786.0 1298.2L787.9 1296.7L789.9 1295.1L791.8 1293.5L793.8 1292.0L795.7 1290.4L797.6 1288.8L799.5 1287.2L801.5 1285.6L803.4 1283.9L805.3 1282.3L807.2 1280.7L809.1 1279.0L811.0 1277.4L812.9 1275.7L814.7 1274.1L816.6 1272.4L818.5 1270.7L820.3 1269.0L822.2 1267.3L824.0 1265.6L825.9 1263.9L827.7 1262.2L829.5 1260.5L831.3 1258.8L833.1 1257.0L834.9 1255.3L836.7 1253.5L838.5 1251.7L840.3 1250.0L842.0 1248.2L843.7 1246.4L845.5 1244.6L847.2 1242.8L848.9 1240.9L850.6 1239.1L852.3 1237.3L854.0 1235.4L855.6 1233.5L857.3 1231.7L858.9 1229.8L860.5 1227.9L862.2 1226.0L863.8 1224.1L865.3 1222.2L866.9 1220.3L868.5 1218.3L870.0 1216.4L871.5 1214.4L873.0 1212.4L874.5 1210.5L876.0 1208.5L877.5 1206.5L878.9 1204.4L880.3 1202.4L881.7 1200.4L883.1 1198.3L884.5 1196.3L885.9 1194.2L887.2 1192.1L888.5 1190.0L889.8 1187.9L891.1 1185.8L892.4 1183.7L893.6 1181.6L894.8 1179.4L896.1 1177.3L897.2 1175.1L898.4 1172.9L899.6 1170.7L900.7 1168.5L901.8 1166.3L902.9 1164.1L904.0 1161.9L905.1 1159.6L906.2 1157.4L907.2 1155.1L908.2 1152.9L909.2 1150.6L910.2 1148.3L911.2 1146.0L912.2 1143.7L913.1 1141.4L914.0 1139.1L915.0 1136.8L915.9 1134.5L916.8 1132.2L917.6 1129.8L918.5 1127.5L919.4 1125.1L920.2 1122.8L921.0 1120.4L921.9 1118.1L922.7 1115.7L923.5 1113.3L924.2 1110.9L925.0 1108.5L925.8 1106.2L926.5 1103.8L927.3 1101.4L928.0 1099.0L928.7 1096.6L929.4 1094.2L930.1 1091.7L930.8 1089.3L931.5 1086.9L932.2 1084.5L932.8 1082.1L933.5 1079.6L934.1 1077.2L934.8 1074.8L935.4 1072.4L936.0 1069.9L936.6 1067.5L937.3 1065.1L937.9 1062.7L938.5 1060.2L939.0 1057.8L939.6 1055.4L940.2 1052.9L940.8 1050.5L941.4 1048.1L941.9 1045.6L942.5 1043.2L943.0 1040.8L943.6 1038.4L944.1 1035.9L944.7 1033.5L945.2 1031.1L945.7 1028.6L946.2 1026.2L946.8 1023.8L947.3 1021.3L947.8 1018.9L948.3 1016.5L948.8 1014.0L949.3 1011.6L949.8 1009.2L950.3 1006.8L950.8 1004.3L951.3 1001.9L951.7 999.5L952.2 997.0L952.7 994.6L953.2 992.2L953.6 989.7L954.1 987.3L954.6 984.8L955.0 982.4L955.5 980.0L955.9 977.5L956.4 975.1L956.9 972.6L957.3 970.2L957.8 967.8L958.2 965.3L958.7 962.9L959.1 960.4L959.5 958.0L960.0 955.5L960.4 953.1L960.9 950.6L961.3 948.2L961.8 945.7L962.2 943.3L962.6 940.8L963.1 938.4L963.5 935.9L963.9 933.4L964.4 931.0L964.8 928.5L965.3 926.1L965.7 923.6L966.1 921.1L966.6 918.7L967.0 916.2L967.5 913.7L967.9 911.2L968.4 908.8L968.8 906.3L969.2 903.8L969.7 901.3L970.1 898.8L970.6 896.4L971.0 893.9L971.5 891.4L972.0 888.9L972.4 886.4L972.9 883.9L973.3 881.4L973.8 878.9L974.3 876.4L974.7 873.9L975.2 871.4L975.7 868.9L976.2 866.4L976.6 863.9L977.1 861.4L977.6 858.8L978.1 856.3L978.6 853.8L979.1 851.3L979.6 848.7L980.1 846.2L980.7 843.7L981.2 841.2L981.8 838.7L982.4 836.2L983.0 833.7L983.6 831.2L984.3 828.8L985.0 826.4L985.8 824.0L986.6 821.6L987.5 819.2L988.4 816.9L989.3 814.6L990.4 812.3L991.4 810.1L992.6 807.9L993.8 805.7L995.1 803.7L996.4 801.8L997.7 800.0L999.1 798.4L1000.6 797.1L1002.1 796.0L1003.6 795.2L1005.1 794.7L1006.7 794.6L1008.3 794.8L1009.9 795.4L1011.5 796.3L1013.1 797.5L1014.6 798.9L1016.2 800.6L1017.7 802.5L1019.2 804.6L1020.6 806.8L1022.0 809.2L1023.3 811.6L1024.5 814.2L1025.7 816.7L1026.8 819.4L1027.8 822.0L1028.7 824.5L1029.5 827.1L1030.3 829.6L1030.9 832.1L1031.5 834.6L1032.1 837.0L1032.6 839.5L1033.1 841.9L1033.6 844.3L1034.1 846.8L1034.6 849.2L1035.1 851.6L1035.6 854.1L1036.1 856.5L1036.6 859.0L1037.1 861.4L1037.6 863.9L1038.1 866.3L1038.6 868.8L1039.1 871.2L1039.6 873.7L1040.0 876.1L1040.5 878.6L1041.0 881.0L1041.5 883.5L1042.0 885.9L1042.5 888.4L1043.0 890.9L1043.4 893.3L1043.9 895.8L1044.4 898.2L1044.9 900.7L1045.3 903.2L1045.8 905.6L1046.3 908.1L1046.8 910.6L1047.2 913.0L1047.7 915.5L1048.2 918.0L1048.7 920.4L1049.1 922.9L1049.6 925.4L1050.1 927.8L1050.5 930.3L1051.0 932.8L1051.5 935.2L1051.9 937.7L1052.4 940.2L1052.9 942.7L1053.3 945.1L1053.8 947.6L1054.2 950.1L1054.7 952.5L1055.1 955.0L1055.6 957.5L1056.1 959.9L1056.5 962.4L1057.0 964.9L1057.4 967.3L1057.9 969.8L1058.3 972.3L1058.8 974.8L1059.2 977.2L1059.7 979.7L1060.1 982.2L1060.5 984.6L1061.0 987.1L1061.4 989.5L1061.9 992.0L1062.3 994.5L1062.7 996.9L1063.2 999.4L1063.6 1001.9L1064.0 1004.3L1064.5 1006.8L1064.9 1009.2L1065.3 1011.7L1065.8 1014.1L1066.2 1016.6L1066.6 1019.0L1067.1 1021.5L1067.5 1023.9L1067.9 1026.4L1068.3 1028.8L1068.7 1031.3L1069.2 1033.7L1069.6 1036.2L1070.0 1038.6L1070.4 1041.1L1070.9 1043.5L1071.3 1045.9L1071.7 1048.4L1072.1 1050.8L1072.6 1053.2L1073.0 1055.7L1073.4 1058.1L1073.8 1060.5L1074.3 1063.0L1074.7 1065.4L1075.2 1067.8L1075.6 1070.2L1076.1 1072.7L1076.5 1075.1L1077.0 1077.5L1077.5 1079.9L1077.9 1082.4L1078.4 1084.8L1078.9 1087.2L1079.4 1089.6L1079.9 1092.0L1080.4 1094.5L1080.9 1096.9L1081.5 1099.3L1082.0 1101.7L1082.5 1104.1L1083.1 1106.5L1083.6 1108.9L1084.2 1111.3L1084.8 1113.8L1085.4 1116.2L1086.0 1118.6L1086.6 1121.0L1087.2 1123.4L1087.8 1125.8L1088.5 1128.2L1089.1 1130.6L1089.8 1133.0L1090.5 1135.4L1091.2 1137.8L1091.9 1140.2L1092.6 1142.6L1093.3 1145.0L1094.1 1147.4L1094.8 1149.8L1095.6 1152.2L1096.4 1154.6L1097.2 1157.0L1098.0 1159.4L1098.9 1161.8L1099.7 1164.2L1100.6 1166.6L1101.5 1169.0L1102.4 1171.4L1103.3 1173.8L1104.3 1176.2L1105.2 1178.6L1106.2 1181.0L1107.2 1183.4L1108.2 1185.8L1109.3 1188.1L1110.3 1190.5L1111.4 1192.9L1112.5 1195.2L1113.7 1197.6L1114.8 1199.9L1116.0 1202.2L1117.2 1204.5L1118.4 1206.8L1119.6 1209.1L1120.9 1211.3L1122.2 1213.6L1123.5 1215.8L1124.8 1217.9L1126.2 1220.1L1127.6 1222.2L1129.0 1224.3L1130.5 1226.4L1132.0 1228.4L1133.5 1230.4L1135.0 1232.3L1136.6 1234.2L1138.2 1236.1L1139.8 1238.0L1141.5 1239.8L1143.2 1241.5L1144.9 1243.2L1146.7 1244.9L1148.5 1246.5L1150.3 1248.0L1152.2 1249.6L1154.1 1251.0L1156.0 1252.4L1158.0 1253.8L1160.0 1255.0L1162.1 1256.3L1164.1 1257.4L1166.3 1258.5L1168.4 1259.6L1170.6 1260.6L1172.9 1261.5L1175.1 1262.3L1177.4 1263.1L1179.8 1263.8L1182.2 1264.4L1184.6 1265.0L1187.1 1265.5L1189.6 1266.0L1192.1 1266.4L1194.6 1266.8L1197.1 1267.2L1199.7 1267.5L1202.3 1267.9L1204.8 1268.2L1207.4 1268.5L1210.0 1268.7L1212.6 1269.0L1215.2 1269.3L1217.8 1269.6L1220.3 1269.9L1222.9 1270.3L1225.4 1270.6L1228.0 1271.0L1230.5 1271.5L1232.9 1271.9L1235.4 1272.5L1237.8 1273.0L1240.2 1273.7L1242.5 1274.4L1244.8 1275.1L1247.1 1275.9L1249.3 1276.8L1251.5 1277.8L1253.7 1278.8L1255.8 1279.9L1257.8 1281.1L1259.9 1282.3L1261.9 1283.6L1263.9 1284.9L1265.8 1286.3L1267.7 1287.8L1269.6 1289.2L1271.4 1290.8L1273.3 1292.4L1275.1 1294.0L1276.8 1295.7L1278.6 1297.4L1280.3 1299.1L1282.0 1300.9L1283.7 1302.7L1285.4 1304.6L1287.0 1306.4L1288.7 1308.4L1290.3 1310.3L1291.9 1312.3L1293.5 1314.2L1295.1 1316.2L1296.7 1318.3L1298.2 1320.3L1299.8 1322.4L1301.3 1324.4L1302.9 1326.5L1304.4 1328.6L1305.9 1330.7L1307.4 1332.8L1309.0 1334.9L1310.5 1337.0L1312.0 1339.1L1313.6 1341.2L1315.2 1343.2L1316.7 1345.2L1318.3 1347.2L1320.0 1349.1L1321.6 1351.0L1323.3 1352.7L1325.1 1354.4L1326.9 1356.1L1328.7 1357.6L1330.6 1359.0L1332.6 1360.3L1334.6 1361.5L1336.6 1362.6L1338.8 1363.5L1341.0 1364.3L1343.3 1365.0L1345.7 1365.5L1348.1 1365.9L1350.5 1366.2L1353.0 1366.4L1355.5 1366.5L1358.0 1366.5L1360.5 1366.5L1363.0 1366.5L1365.4 1366.4L1367.9 1366.2L1370.3 1366.1L1372.7 1365.9L1375.1 1365.8L1377.5 1365.6L1379.9 1365.4L1382.3 1365.2L1384.6 1365.0L1387.0 1364.8L1389.3 1364.7L1391.7 1364.6L1394.0 1364.5L1396.4 1364.4L1398.7 1364.4L1401.0 1364.4L1403.3 1364.5L1405.7 1364.7L1408.0 1364.9L1410.3 1365.2L1412.6 1365.5L1415.0 1365.9L1417.3 1366.4L1419.6 1366.9L1421.9 1367.5L1424.3 1368.2L1426.6 1368.9L1428.9 1369.6L1431.3 1370.4L1433.6 1371.2L1436.0 1372.0L1438.3 1372.9L1440.6 1373.8L1443.0 1374.7L1445.3 1375.7L1447.7 1376.6L1450.0 1377.6L1452.4 1378.6L1454.7 1379.6L1457.1 1380.6L1459.5 1381.6L1461.8 1382.6L1464.2 1383.6L1466.5 1384.6L1468.9 1385.5L1471.3 1386.5L1473.7 1387.4L1476.0 1388.3L1478.4 1389.2L1480.8 1390.1L1483.2 1390.9L1485.6 1391.7L1488.0 1392.5L1490.4 1393.3L1492.8 1394.0L1495.2 1394.7L1497.6 1395.4L1500.0 1396.1L1502.4 1396.7L1504.8 1397.3L1507.2 1397.8L1509.6 1398.4L1512.0 1398.8L1514.5 1399.3L1516.9 1399.7L1519.3 1400.1L1521.7 1400.5L1524.2 1400.8L1526.6 1401.0L1529.1 1401.3L1531.5 1401.4L1534.0 1401.6L1536.4 1401.7L1538.9 1401.8L1541.3 1401.8L1543.8 1401.7L1546.3 1401.7L1548.7 1401.6L1551.2 1401.4L1553.7 1401.2L1556.2 1400.9L1558.7 1400.6L1561.2 1400.2L1563.6 1399.8L1566.1 1399.4L1568.6 1398.9L1571.1 1398.4L1573.6 1397.9L1576.1 1397.4L1578.6 1396.8L1581.1 1396.3L1583.6 1395.7L1586.1 1395.2L1588.6 1394.7L1591.1 1394.2L1593.6 1393.7L1596.1 1393.3L1598.6 1392.9L1601.0 1392.5L1603.5 1392.3L1606.0 1392.0L1608.4 1391.8L1610.9 1391.7L1613.3 1391.7L1615.7 1391.7L1618.1 1391.9L1620.6 1392.1L1623.0 1392.4L1625.3 1392.8L1627.7 1393.4L1630.1 1394.0L1632.4 1394.7L1634.8 1395.5L1637.1 1396.4L1639.4 1397.3L1641.8 1398.3L1644.1 1399.4L1646.4 1400.5L1648.7 1401.6L1651.0 1402.7L1653.3 1403.8L1655.6 1405.0L1658.0 1406.1L1660.3 1407.3L1662.6 1408.4L1664.9 1409.5L1667.2 1410.5L1669.5 1411.5L1671.9 1412.4L1674.2 1413.3L1676.6 1414.2L1678.9 1415.0L1681.3 1415.7L1683.6 1416.4L1686.0 1417.1L1688.4 1417.7L1690.8 1418.3L1693.2 1418.8L1695.6 1419.3L1698.0 1419.7L1700.4 1420.1L1702.8 1420.5L1705.2 1420.8L1707.7 1421.2L1710.1 1421.4L1712.6 1421.7L1715.0 1421.9L1717.5 1422.0L1720.0 1422.2L1722.4 1422.3L1724.9 1422.4L1727.4 1422.5L1729.9 1422.5L1732.4 1422.5L1734.9 1422.5L1737.4 1422.5L1740.0 1422.5L1742.5 1422.4L1745.0 1422.3L1747.5 1422.2L1750.1 1422.1L1752.6 1422.0L1755.2 1421.9L1757.7 1421.8L1760.2 1421.6L1762.8 1421.5L1765.3 1421.3L1767.9 1421.1L1770.4 1421.0L1772.9 1420.8L1775.5 1420.6L1778.0 1420.5L1780.6 1420.3L1783.1 1420.1L1785.6 1420.0L1788.2 1419.8L1790.7 1419.7L1793.2 1419.6L1795.7 1419.4L1798.2 1419.3L1800.8 1419.2L1803.3 1419.1L1805.8 1419.0L1808.3 1418.9L1810.8 1418.8L1813.3 1418.8L1815.8 1418.7L1818.3 1418.6L1820.7 1418.6L1823.2 1418.6L1825.7 1418.5L1828.2 1418.5L1830.7 1418.5L1833.1 1418.5L1835.6 1418.5L1838.1 1418.5L1840.6 1418.5L1843.0 1418.5L1845.5 1418.5L1847.9 1418.5L1850.4 1418.6L1852.8 1418.6L1855.3 1418.7L1857.8 1418.7L1860.2 1418.8L1862.6 1418.9L1865.1 1419.0L1867.5 1419.1L1870.0 1419.2L1872.4 1419.3L1874.8 1419.4L1877.3 1419.5L1879.7 1419.6L1882.1 1419.8L1884.6 1419.9L1887.0 1420.0L1889.4 1420.2L1891.9 1420.4L1894.3 1420.5L1896.7 1420.7L1899.1 1420.9L1901.5 1421.1L1904.0 1421.3L1906.4 1421.5L1908.8 1421.7L1911.2 1421.9L1913.6 1422.1L1916.0 1422.3L1918.5 1422.6L1920.9 1422.8L1923.3 1423.1L1925.7 1423.3L1928.1 1423.6L1930.5 1423.9L1932.9 1424.1L1935.3 1424.4L1937.7 1424.7L1940.1 1425.0L1942.5 1425.3L1944.9 1425.6L1947.3 1425.9L1949.7 1426.3L1952.1 1426.6L1954.6 1426.9L1957.0 1427.3L1959.4 1427.6L1961.8 1428.0L1964.2 1428.3L1966.6 1428.7L1969.0 1429.1L1971.4 1429.4L1973.8 1429.8L1976.2 1430.2L1978.6 1430.6L1981.0 1431.0L1983.4 1431.4L1985.8 1431.8L1988.2 1432.3L1990.6 1432.7L1993.0 1433.1L1995.4 1433.6L1997.8 1434.0L2000.2 1434.5L2002.7 1434.9L2005.1 1435.4L2007.5 1435.9L2009.9 1436.3L2012.3 1436.8L2014.7 1437.3L2017.1 1437.8L2019.5 1438.3L2022.0 1438.8L2024.4 1439.3L2026.8 1439.8L2029.2 1440.3L2031.6 1440.9L2034.1 1441.4L2036.5 1441.9L2038.9 1442.5L2041.3 1443.0L2043.8 1443.6L2046.2 1444.2L2048.6 1444.7L2051.1 1445.3L2053.5 1445.9L2055.9 1446.5L2058.4 1447.1L2060.8 1447.7L2063.3 1448.3L2065.7 1448.9L2068.2 1449.5" stroke="#00ff00" stroke-width="6" stroke-linecap="round" stroke-dasharray="28.0 18.0 3.0 18.2 28.0 18.7 3.0 19.0 28.0 17.5 3.0 19.5 28.0 18.7 3.0 18.4 28.0 18.4 3.0 18.9 28.0 18.3 3.0 19.6 28.0 17.6 3.0 17.6 28.0 18.4 3.0 19.4 28.0 19.0 3.0 16.7 28.0 20.2 3.0 21.3 28.0 17.9 3.0 19.2 28.0 19.0 3.0 18.0 28.0 19.6 3.0 19.0 28.0 18.9 3.0 17.6 28.0 16.3 3.0 13.2 28.0 16.3 3.0 20.5 28.0 18.5 3.0 19.4 28.0 16.9 3.0 17.3 28.0 21.3 3.0 19.4 28.0 17.3 3.0 20.3 28.0 17.5 3.0 18.4 28.0 17.2 3.0 18.8 28.0 18.4 3.0 19.0 28.0 17.7 3.0 16.7 28.0 16.7 3.0 19.9 28.0 19.6 3.0 17.5 28.0 18.3 3.0 18.3 28.0 18.8 3.0 19.4 28.0 18.4 3.0 19.1 28.0 16.9 3.0 16.0 28.0 20.7 3.0 19.6 28.0 18.1 35.9 17.1 3.0 19.0 28.0 18.0 3.0 19.0 28.0 18.0 3.0 19.0 28.0 18.0 3.0 19.0 28.0 18.0 3.0 2609.9" stroke-dashoffset="5075.2"/>
<path d="M360.6 1478.0L363.0 1477.7L365.4 1477.3L367.7 1477.0L370.1 1476.6L372.5 1476.2L374.9 1475.9L377.3 1475.5L379.7 1475.1L382.1 1474.7L384.5 1474.3L386.9 1473.8L389.3 1473.4L391.7 1473.0L394.1 1472.5L396.5 1472.0L399.0 1471.6L401.4 1471.1L403.8 1470.6L406.2 1470.1L408.6 1469.6L411.0 1469.1L413.4 1468.5L415.8 1468.0L418.2 1467.4L420.6 1466.9L423.0 1466.3L425.5 1465.7L427.9 1465.1L430.3 1464.5L432.7 1463.9L435.1 1463.3L437.5 1462.7L439.9 1462.0L442.3 1461.4L444.7 1460.7L447.1 1460.1L449.5 1459.4L451.9 1458.7L454.3 1458.0L456.7 1457.3L459.1 1456.6L461.5 1455.9L463.9 1455.1L466.3 1454.4L468.7 1453.6L471.1 1452.9L473.5 1452.1L475.9 1451.3L478.2 1450.5L480.6 1449.7L483.0 1448.9L485.4 1448.1L487.8 1447.3L490.1 1446.4L492.5 1445.6L494.9 1444.7L497.2 1443.8L499.6 1443.0L501.9 1442.1L504.3 1441.2L506.7 1440.3L509.0 1439.3L511.3 1438.4L513.7 1437.5L516.0 1436.5L518.4 1435.6L520.7 1434.6L523.0 1433.6L525.3 1432.7L527.7 1431.7L530.0 1430.7L532.3 1429.6L534.6 1428.6L536.9 1427.6L539.2 1426.5L541.5 1425.5L543.8 1424.4L546.1 1423.4L548.4 1422.3L550.6 1421.2L552.9 1420.1L555.2 1419.0L557.5 1417.9L559.7 1416.7L562.0 1415.6L564.2 1414.4L566.5 1413.3L568.7 1412.1L570.9 1410.9L573.1 1409.8L575.4 1408.6L577.6 1407.4L579.8 1406.1L582.0 1404.9L584.2 1403.7L586.4 1402.4L588.6 1401.2L590.7 1399.9L592.9 1398.7L595.1 1397.4L597.2 1396.1L599.4 1394.8L601.5 1393.5L603.7 1392.1L605.8 1390.8L607.9 1389.5L610.1 1388.1L612.2 1386.8L614.3 1385.4L616.4 1384.0L618.5 1382.6L620.6 1381.2L622.6 1379.8L624.7 1378.4L626.8 1377.0L628.8 1375.6L630.9 1374.1L632.9 1372.7L634.9 1371.2L636.9 1369.7L639.0 1368.2L641.0 1366.8L643.0 1365.2L644.9 1363.7L646.9 1362.2L648.9 1360.7L650.9 1359.1L652.8 1357.6L654.8 1356.0L656.7 1354.5L658.6 1352.9L660.5 1351.3L662.4 1349.7L664.3 1348.1L666.2 1346.5L668.1 1344.9L670.0 1343.2L671.9 1341.6L673.7 1339.9L675.5 1338.3L677.4 1336.6L679.2 1334.9L681.0 1333.2L682.8 1331.5L684.6 1329.8L686.4 1328.1L688.2 1326.3L689.9 1324.6L691.7 1322.9L693.4 1321.1L695.1 1319.3L696.9 1317.5L698.6 1315.8L700.3 1314.0L702.0 1312.2L703.6 1310.3L705.3 1308.5L706.9 1306.7L708.6 1304.8L710.2 1303.0L711.8 1301.1L713.4 1299.2L715.0 1297.4L716.6 1295.5L718.2 1293.6L719.8 1291.7L721.3 1289.7L722.9 1287.8L724.4 1285.9L725.9 1283.9L727.4 1282.0L728.9 1280.0L730.4 1278.1L731.9 1276.1L733.3 1274.1L734.8 1272.1L736.2 1270.1L737.7 1268.1L739.1 1266.1L740.5 1264.0L741.9 1262.0L743.3 1260.0L744.7 1257.9L746.1 1255.9L747.4 1253.8L748.8 1251.7L750.1 1249.6L751.5 1247.5L752.8 1245.5L754.1 1243.4L755.4 1241.2L756.7 1239.1L758.0 1237.0L759.2 1234.9L760.5 1232.7L761.8 1230.6L763.0 1228.4L764.2 1226.3L765.5 1224.1L766.7 1222.0L767.9 1219.8L769.1 1217.6L770.3 1215.4L771.5 1213.2L772.6 1211.0L773.8 1208.8L774.9 1206.6L776.1 1204.4L777.2 1202.2L778.3 1199.9L779.4 1197.7L780.5 1195.5L781.6 1193.2L782.7 1191.0L783.8 1188.7L784.9 1186.4L785.9 1184.2L787.0 1181.9L788.0 1179.6L789.1 1177.3L790.1 1175.1L791.1 1172.8L792.1 1170.5L793.1 1168.2L794.1 1165.9L795.1 1163.6L796.1 1161.2L797.0 1158.9L798.0 1156.6L798.9 1154.3L799.9 1151.9L800.8 1149.6L801.8 1147.3L802.7 1144.9L803.6 1142.6L804.5 1140.2L805.4 1137.9L806.3 1135.5L807.1 1133.2L808.0 1130.8L808.9 1128.4L809.7 1126.1L810.6 1123.7L811.4 1121.3L812.3 1118.9L813.1 1116.5L813.9 1114.1L814.7 1111.8L815.5 1109.4L816.3 1107.0L817.1 1104.6L817.9 1102.2L818.6 1099.8L819.4 1097.4L820.2 1095.0L820.9 1092.6L821.7 1090.1L822.4 1087.7L823.1 1085.3L823.9 1082.9L824.6 1080.5L825.3 1078.1L826.0 1075.6L826.7 1073.2L827.4 1070.8L828.1 1068.4L828.7 1065.9L829.4 1063.5L830.1 1061.1L830.7 1058.6L831.4 1056.2L832.0 1053.8L832.7 1051.3L833.3 1048.9L833.9 1046.5L834.6 1044.0L835.2 1041.6L835.8 1039.1L836.4 1036.7L837.0 1034.3L837.6 1031.8L838.1 1029.4L838.7 1026.9L839.3 1024.5L839.9 1022.1L840.4 1019.6L841.0 1017.2L841.5 1014.7L842.1 1012.3L842.6 1009.8L843.1 1007.4L843.7 1005.0L844.2 1002.5L844.7 1000.1L845.2 997.7L845.7 995.2L846.2 992.8L846.7 990.3L847.2 987.9L847.7 985.5L848.2 983.0L848.7 980.6L849.1 978.2L849.6 975.7L850.1 973.3L850.5 970.9L851.0 968.4L851.5 966.0L851.9 963.6L852.4 961.1L852.8 958.7L853.3 956.3L853.7 953.9L854.2 951.4L854.6 949.0L855.1 946.6L855.5 944.1L856.0 941.7L856.4 939.3L856.9 936.9L857.3 934.4L857.8 932.0L858.2 929.6L858.7 927.2L859.1 924.7L859.6 922.3L860.0 919.9L860.5 917.4L860.9 915.0L861.4 912.6L861.8 910.2L862.3 907.7L862.8 905.3L863.2 902.9L863.7 900.5L864.2 898.0L864.7 895.6L865.1 893.2L865.6 890.7L866.1 888.3L866.6 885.9L867.1 883.5L867.6 881.0L868.1 878.6L868.6 876.2L869.2 873.7L869.7 871.3L870.2 868.9L870.8 866.5L871.3 864.0L871.8 861.6L872.4 859.2L872.9 856.7L873.5 854.3L874.0 851.8L874.6 849.4L875.1 847.0L875.7 844.5L876.2 842.1L876.8 839.6L877.3 837.2L877.8 834.7L878.4 832.2L878.9 829.8L879.4 827.3L879.9 824.8L880.4 822.4L880.9 819.9L881.4 817.4L881.9 814.9L882.4 812.4L882.8 810.0L883.3 807.5L883.7 804.9L884.1 802.4L884.5 799.9L884.9 797.4L885.3 794.9L885.7 792.3L886.0 789.8L886.3 787.3L886.7 784.7L887.0 782.2L887.3 779.6L887.6 777.1L887.9 774.5L888.2 772.0L888.5 769.4L888.9 766.9L889.2 764.3L889.6 761.8L889.9 759.3L890.3 756.7L890.8 754.2L891.2 751.7L891.7 749.2L892.2 746.7L892.7 744.3L893.3 741.8L894.0 739.4L894.6 737.0L895.4 734.5L896.2 732.2L897.0 729.8L897.9 727.4L898.8 725.1L899.8 722.8L900.9 720.5L902.1 718.3L903.3 716.1L904.6 713.9L906.0 711.7L907.4 709.6L909.0 707.5L910.6 705.4L912.2 703.5L913.9 701.7L915.6 700.1L917.2 698.7L918.9 697.5L920.5 696.6L922.1 696.0L923.5 695.7L925.0 695.7L926.3 696.1L927.5 696.8L928.6 697.9L929.7 699.2L930.7 700.8L931.6 702.6L932.5 704.7L933.3 706.9L934.1 709.4L934.8 711.9L935.5 714.6L936.1 717.4L936.7 720.3L937.3 723.2L937.9 726.1L938.4 729.1L939.0 732.0L939.5 735.0L940.0 737.8L940.6 740.7L941.1 743.5L941.6 746.3L942.1 749.0L942.6 751.7L943.1 754.4L943.6 757.1L944.1 759.7L944.6 762.4L945.1 764.9L945.6 767.5L946.1 770.1L946.5 772.6L947.0 775.1L947.5 777.6L947.9 780.1L948.4 782.6L948.9 785.0L949.3 787.5L949.8 789.9L950.2 792.3L950.6 794.8L951.1 797.2L951.5 799.6L952.0 802.0L952.4 804.4L952.8 806.7L953.2 809.1L953.7 811.5L954.1 813.9L954.5 816.3L954.9 818.7L955.3 821.1L955.7 823.5L956.1 825.9L956.5 828.3L956.9 830.7L957.3 833.1L957.7 835.5L958.1 837.9L958.5 840.3L958.9 842.8L959.3 845.2L959.7 847.6L960.1 850.0L960.5 852.5L960.8 854.9L961.2 857.3L961.6 859.8L962.0 862.2L962.4 864.6L962.7 867.1L963.1 869.5L963.5 872.0L963.9 874.4L964.2 876.9L964.6 879.3L965.0 881.8L965.3 884.3L965.7 886.7L966.1 889.2L966.4 891.6L966.8 894.1L967.2 896.6L967.5 899.0L967.9 901.5L968.3 904.0L968.6 906.4L969.0 908.9L969.4 911.4L969.7 913.9L970.1 916.3L970.5 918.8L970.8 921.3L971.2 923.8L971.6 926.3L971.9 928.7L972.3 931.2L972.7 933.7L973.0 936.2L973.4 938.7L973.8 941.2L974.1 943.6L974.5 946.1L974.9 948.6L975.3 951.1L975.6 953.6L976.0 956.1L976.4 958.6L976.8 961.1L977.2 963.5L977.5 966.0L977.9 968.5L978.3 971.0L978.7 973.5L979.1 976.0L979.5 978.5L979.9 981.0L980.3 983.4L980.7 985.9L981.0 988.4L981.5 990.9L981.9 993.4L982.3 995.9L982.7 998.4L983.1 1000.8L983.5 1003.3L983.9 1005.8L984.3 1008.3L984.7 1010.8L985.2 1013.2L985.6 1015.7L986.0 1018.2L986.4 1020.7L986.9 1023.2L987.3 1025.6L987.8 1028.1L988.2 1030.6L988.7 1033.0L989.1 1035.5L989.6 1038.0L990.0 1040.5L990.5 1042.9L991.0 1045.4L991.4 1047.8L991.9 1050.3L992.4 1052.8L992.9 1055.2L993.4 1057.7L993.9 1060.1L994.4 1062.6L994.9 1065.0L995.4 1067.5L995.9 1069.9L996.4 1072.3L996.9 1074.8L997.5 1077.2L998.0 1079.7L998.6 1082.1L999.1 1084.5L999.7 1086.9L1000.3 1089.4L1000.8 1091.8L1001.4 1094.2L1002.0 1096.6L1002.6 1099.0L1003.2 1101.5L1003.8 1103.9L1004.5 1106.3L1005.1 1108.7L1005.7 1111.1L1006.4 1113.5L1007.0 1115.9L1007.7 1118.2L1008.4 1120.6L1009.1 1123.0L1009.8 1125.4L1010.5 1127.8L1011.2 1130.1L1011.9 1132.5L1012.6 1134.9L1013.4 1137.2L1014.1 1139.6L1014.9 1141.9L1015.7 1144.3L1016.4 1146.6L1017.2 1149.0L1018.0 1151.3L1018.9 1153.6L1019.7 1156.0L1020.5 1158.3L1021.4 1160.6L1022.2 1162.9L1023.1 1165.2L1024.0 1167.5L1024.9 1169.8L1025.8 1172.1L1026.7 1174.4L1027.7 1176.7L1028.6 1179.0L1029.6 1181.3L1030.6 1183.6L1031.6 1185.8L1032.6 1188.1L1033.6 1190.4L1034.6 1192.6L1035.6 1194.9L1036.7 1197.1L1037.8 1199.3L1038.9 1201.6L1040.0 1203.8L1041.1 1206.0L1042.2 1208.2L1043.4 1210.5L1044.5 1212.7L1045.7 1214.9L1046.9 1217.1L1048.1 1219.2L1049.3 1221.4L1050.6 1223.6L1051.8 1225.8L1053.1 1227.9L1054.4 1230.1L1055.7 1232.2L1057.0 1234.4L1058.3 1236.5L1059.7 1238.7L1061.0 1240.8L1062.4 1242.9L1063.8 1245.0L1065.2 1247.1L1066.7 1249.2L1068.1 1251.2L1069.6 1253.3L1071.1 1255.3L1072.6 1257.4L1074.1 1259.4L1075.6 1261.4L1077.2 1263.4L1078.7 1265.4L1080.3 1267.4L1081.9 1269.4L1083.5 1271.3L1085.1 1273.3L1086.8 1275.2L1088.4 1277.1L1090.1 1279.0L1091.8 1280.9L1093.5 1282.7L1095.2 1284.6L1097.0 1286.4L1098.7 1288.2L1100.5 1290.0L1102.3 1291.8L1104.1 1293.6L1105.9 1295.3L1107.8 1297.1L1109.6 1298.8L1111.5 1300.5L1113.4 1302.1L1115.3 1303.8L1117.2 1305.4L1119.2 1307.0L1121.1 1308.6L1123.1 1310.2L1125.1 1311.7L1127.1 1313.3L1129.1 1314.8L1131.1 1316.3L1133.2 1317.7L1135.3 1319.2L1137.4 1320.6L1139.5 1322.0L1141.6 1323.3L1143.7 1324.7L1145.9 1326.0L1148.0 1327.3L1150.2 1328.6L1152.4 1329.8L1154.7 1331.0L1156.9 1332.2L1159.2 1333.4L1161.4 1334.5L1163.7 1335.6L1166.0 1336.7L1168.4 1337.7L1170.7 1338.8L1173.1 1339.8L1175.4 1340.7L1177.8 1341.6L1180.2 1342.5L1182.5 1343.2L1184.9 1343.9L1187.2 1344.4L1189.5 1344.9L1191.7 1345.2L1193.9 1345.3L1196.1 1345.3L1198.1 1345.0L1200.2 1344.6L1202.1 1344.0L1203.9 1343.1L1205.7 1342.0L1207.3 1340.7L1208.9 1339.2L1210.4 1337.5L1211.9 1335.6L1213.2 1333.5L1214.6 1331.3L1215.8 1329.0L1217.0 1326.5L1218.2 1323.9L1219.3 1321.2L1220.4 1318.5L1221.4 1315.7L1222.4 1312.8L1223.4 1309.9L1224.4 1306.9L1225.4 1304.0L1226.4 1301.1L1227.3 1298.2L1228.3 1295.3L1229.3 1292.5L1230.3 1289.7L1231.3 1287.1L1232.4 1284.5L1233.5 1282.1L1234.7 1279.9L1235.9 1277.8L1237.2 1275.9L1238.5 1274.2L1240.0 1272.7L1241.5 1271.4L1243.1 1270.4L1244.7 1269.7L1246.5 1269.3L1248.4 1269.2L1250.4 1269.3L1252.4 1269.7L1254.5 1270.3L1256.6 1271.1L1258.7 1272.1L1260.9 1273.3L1263.0 1274.7L1265.1 1276.2L1267.1 1277.8L1269.1 1279.6L1271.0 1281.4L1272.9 1283.4L1274.6 1285.3L1276.3 1287.4L1277.9 1289.5L1279.4 1291.7L1280.9 1293.9L1282.3 1296.1L1283.7 1298.4L1285.1 1300.7L1286.5 1303.0L1287.8 1305.4L1289.2 1307.7L1290.6 1310.1L1291.9 1312.5L1293.3 1314.8L1294.8 1317.2L1296.2 1319.5L1297.8 1321.8L1299.3 1324.0L1300.9 1326.3L1302.6 1328.4L1304.2 1330.6L1306.0 1332.6L1307.7 1334.6L1309.5 1336.4L1311.4 1338.2L1313.3 1339.9L1315.2 1341.4L1317.1 1342.9L1319.1 1344.2L1321.1 1345.3L1323.1 1346.3L1325.2 1347.2L1327.3 1347.9L1329.4 1348.4L1331.6 1348.7L1333.7 1348.8L1335.9 1348.7L1338.2 1348.5L1340.4 1348.1L1342.7 1347.6L1345.0 1346.9L1347.3 1346.2L1349.6 1345.3L1352.0 1344.4L1354.3 1343.4L1356.7 1342.3L1359.1 1341.2L1361.5 1340.0L1363.9 1338.9L1366.3 1337.7L1368.7 1336.6L1371.2 1335.4L1373.6 1334.4L1376.1 1333.3L1378.6 1332.3L1381.0 1331.3L1383.5 1330.4L1386.0 1329.4L1388.4 1328.6L1390.9 1327.8L1393.4 1327.0L1395.9 1326.3L1398.4 1325.6L1400.8 1325.0L1403.3 1324.4L1405.8 1323.9L1408.3 1323.4L1410.7 1323.0L1413.2 1322.7L1415.6 1322.4L1418.1 1322.1L1420.5 1322.0L1423.0 1321.9L1425.4 1321.8L1427.8 1321.8L1430.3 1321.8L1432.7 1321.9L1435.1 1322.1L1437.5 1322.3L1439.9 1322.5L1442.3 1322.8L1444.7 1323.1L1447.1 1323.5L1449.5 1323.9L1451.8 1324.4L1454.2 1324.9L1456.6 1325.4L1459.0 1326.0L1461.3 1326.6L1463.7 1327.2L1466.1 1327.9L1468.4 1328.6L1470.8 1329.3L1473.1 1330.1L1475.5 1330.9L1477.9 1331.7L1480.2 1332.5L1482.6 1333.4L1484.9 1334.3L1487.2 1335.2L1489.6 1336.1L1491.9 1337.0L1494.3 1338.0L1496.6 1338.9L1498.9 1339.9L1501.3 1340.9L1503.6 1341.9L1506.0 1342.9L1508.3 1344.0L1510.6 1345.0L1513.0 1346.0L1515.3 1347.1L1517.7 1348.1L1520.0 1349.2L1522.3 1350.2L1524.7 1351.2L1527.0 1352.3L1529.4 1353.3L1531.7 1354.3L1534.0 1355.4L1536.4 1356.4L1538.7 1357.4L1541.1 1358.4L1543.4 1359.4L1545.8 1360.3L1548.2 1361.3L1550.5 1362.2L1552.9 1363.1L1555.2 1364.1L1557.6 1364.9L1560.0 1365.8L1562.3 1366.6L1564.7 1367.4L1567.1 1368.2L1569.5 1369.0L1571.9 1369.7L1574.3 1370.4L1576.7 1371.1L1579.1 1371.8L1581.5 1372.4L1583.9 1373.0L1586.3 1373.6L1588.7 1374.1L1591.1 1374.6L1593.5 1375.2L1596.0 1375.6L1598.4 1376.1L1600.8 1376.6L1603.2 1377.0L1605.7 1377.5L1608.1 1377.9L1610.5 1378.3L1613.0 1378.7L1615.4 1379.1L1617.8 1379.4L1620.3 1379.8L1622.7 1380.2L1625.1 1380.5L1627.6 1380.9L1630.0 1381.3L1632.5 1381.6L1634.9 1382.0L1637.4 1382.3L1639.8 1382.7L1642.2 1383.1L1644.7 1383.4L1647.1 1383.8L1649.6 1384.2L1652.0 1384.6L1654.4 1385.0L1656.9 1385.4L1659.3 1385.9L1661.7 1386.3L1664.2 1386.8L1666.6 1387.3L1669.0 1387.8L1671.5 1388.3L1673.9 1388.8L1676.3 1389.4L1678.7 1390.0L1681.1 1390.6L1683.5 1391.2L1686.0 1391.9L1688.4 1392.6L1690.8 1393.3L1693.2 1394.0L1695.6 1394.8L1698.0 1395.6L1700.3 1396.5L1702.7 1397.3L1705.1 1398.2L1707.5 1399.2L1709.9 1400.1L1712.2 1401.1L1714.6 1402.1L1717.0 1403.1L1719.3 1404.1L1721.7 1405.1L1724.1 1406.2L1726.4 1407.2L1728.8 1408.2L1731.1 1409.3L1733.5 1410.3L1735.9 1411.3L1738.2 1412.3L1740.6 1413.3L1743.0 1414.2L1745.3 1415.1L1747.7 1416.0L1750.0 1416.9L1752.4 1417.8L1754.8 1418.6L1757.2 1419.3L1759.5 1420.1L1761.9 1420.7L1764.3 1421.4L1766.7 1422.0L1769.1 1422.5L1771.5 1423.0L1773.9 1423.4L1776.3 1423.7L1778.7 1424.0L1781.1 1424.2L1783.5 1424.3L1785.9 1424.4L1788.3 1424.4L1790.8 1424.4L1793.2 1424.3L1795.7 1424.1L1798.1 1423.9L1800.6 1423.7L1803.0 1423.4L1805.5 1423.0L1807.9 1422.7L1810.4 1422.2L1812.8 1421.8L1815.3 1421.3L1817.8 1420.8L1820.3 1420.3L1822.7 1419.8L1825.2 1419.2L1827.7 1418.7L1830.2 1418.1L1832.6 1417.5L1835.1 1416.9L1837.6 1416.3L1840.1 1415.7L1842.6 1415.2L1845.1 1414.6L1847.6 1414.0L1850.0 1413.5L1852.5 1413.0L1855.0 1412.5L1857.5 1412.0L1860.0 1411.5L1862.5 1411.1L1864.9 1410.7L1867.4 1410.3L1869.9 1410.0L1872.4 1409.7L1874.8 1409.5L1877.3 1409.2L1879.8 1409.0L1882.3 1408.8L1884.7 1408.7L1887.2 1408.6L1889.7 1408.5L1892.1 1408.4L1894.6 1408.4L1897.1 1408.4L1899.5 1408.4L1902.0 1408.5L1904.4 1408.6L1906.9 1408.7L1909.4 1408.8L1911.8 1409.0L1914.3 1409.1L1916.7 1409.3L1919.2 1409.6L1921.6 1409.8L1924.1 1410.1L1926.5 1410.4L1929.0 1410.7L1931.4 1411.0L1933.9 1411.4L1936.3 1411.8L1938.7 1412.2L1941.2 1412.6L1943.6 1413.0L1946.1 1413.5L1948.5 1413.9L1950.9 1414.4L1953.3 1414.9L1955.8 1415.4L1958.2 1416.0L1960.6 1416.5L1963.1 1417.1L1965.5 1417.7L1967.9 1418.3L1970.3 1418.9L1972.7 1419.5L1975.2 1420.2L1977.6 1420.8L1980.0 1421.5L1982.4 1422.2L1984.8 1422.8L1987.2 1423.5L1989.6 1424.2L1992.0 1425.0L1994.4 1425.7L1996.8 1426.4L1999.3 1427.2L2001.6 1427.9L2004.0 1428.7L2006.4 1429.5L2008.8 1430.2L2011.2 1431.0L2013.6 1431.8L2016.0 1432.6L2018.4 1433.4L2020.8 1434.2L2023.2 1435.0L2025.6 1435.8L2027.9 1436.6L2030.3 1437.4L2032.7 1438.3L2035.1 1439.1L2037.4 1439.9L2039.8 1440.7L2042.2 1441.5L2044.6 1442.4L2046.9 1443.2L2049.3 1444.0L2051.7 1444.8L2054.0 1445.6L2056.4 1446.5L2058.7 1447.3L2061.1 1448.1L2063.4 1448.9L2065.8 1449.7L2068.1 1450.5" stroke="#0000ff" stroke-width="8" stroke-linecap="round" stroke-dasharray="4.0 38.0 4.0 37.8 4.0 39.5 4.0 36.0 4.0 37.7 4.0 36.7 4.0 37.0 4.0 38.8 4.0 38.1 4.0 39.9 4.0 38.6 4.0 39.8 4.0 38.6 4.0 37.5 4.0 40.2 4.0 38.8 4.0 38.1 4.0 36.7 4.0 39.9 4.0 38.1 4.0 37.7 4.0 38.7 4.0 37.9 4.0 36.8 4.0 21.7 4.0 38.3 4.0 37.9 4.0 38.3 4.0 38.1 4.0 38.2 4.0 38.0 4.0 39.2 4.0 38.4 4.0 38.2 4.0 38.3 4.0 37.6 4.0 36.5 4.0 37.4 4.0 37.6 4.0 36.9 4.0 40.6 4.0 38.7 4.0 32.3 4.0 41.6 4.0 34.7 4.0 28.7 4.0 36.4 4.0 46.0 4.0 36.9 4.0 40.4 4.0 37.3 4.0 37.1 4.0 38.5 4.0 39.0 4.0 41.0 4.0 40.9 4.0 36.2 4.0 38.3 4.0 39.2 4.0 38.3 4.0 37.9 4.0 38.6 4.0 78.7 4.0 37.9 4.0 41.0 4.0 2895.9" stroke-dashoffset="5648.5"/>
<path d="M359.1 1479.4L361.2 1478.1L363.3 1477.0L365.5 1475.9L367.7 1475.0L370.0 1474.2L372.4 1473.5L374.7 1472.8L377.2 1472.3L379.6 1471.8L382.1 1471.3L384.6 1470.9L387.1 1470.6L389.6 1470.3L392.2 1470.0L394.8 1469.8L397.3 1469.6L399.9 1469.3L402.5 1469.1L405.1 1468.9L407.6 1468.6L410.2 1468.3L412.7 1468.0L415.2 1467.6L417.7 1467.2L420.2 1466.8L422.7 1466.3L425.1 1465.8L427.6 1465.2L430.0 1464.7L432.4 1464.1L434.8 1463.4L437.2 1462.8L439.6 1462.1L442.0 1461.3L444.3 1460.6L446.6 1459.8L448.9 1458.9L451.3 1458.1L453.5 1457.2L455.8 1456.3L458.1 1455.4L460.4 1454.4L462.6 1453.4L464.8 1452.4L467.1 1451.3L469.3 1450.3L471.5 1449.2L473.7 1448.1L475.8 1446.9L478.0 1445.8L480.2 1444.6L482.3 1443.4L484.4 1442.2L486.6 1440.9L488.7 1439.6L490.8 1438.3L492.9 1437.0L495.0 1435.7L497.1 1434.4L499.1 1433.0L501.2 1431.6L503.3 1430.2L505.3 1428.8L507.4 1427.4L509.4 1425.9L511.4 1424.5L513.4 1423.0L515.5 1421.5L517.5 1420.0L519.5 1418.5L521.5 1417.0L523.4 1415.5L525.4 1413.9L527.4 1412.3L529.4 1410.8L531.3 1409.2L533.3 1407.6L535.3 1406.0L537.2 1404.4L539.2 1402.8L541.1 1401.2L543.1 1399.6L545.0 1397.9L546.9 1396.3L548.9 1394.6L550.8 1393.0L552.7 1391.3L554.6 1389.7L556.5 1388.0L558.4 1386.4L560.3 1384.7L562.2 1383.0L564.1 1381.3L566.0 1379.6L567.9 1377.9L569.8 1376.2L571.6 1374.5L573.5 1372.8L575.3 1371.1L577.2 1369.3L579.0 1367.6L580.8 1365.8L582.6 1364.1L584.4 1362.3L586.2 1360.5L588.0 1358.8L589.8 1357.0L591.5 1355.2L593.3 1353.4L595.0 1351.6L596.7 1349.8L598.4 1347.9L600.1 1346.1L601.8 1344.3L603.5 1342.4L605.1 1340.5L606.8 1338.7L608.4 1336.8L610.0 1334.9L611.6 1333.0L613.2 1331.1L614.8 1329.2L616.3 1327.3L617.8 1325.3L619.3 1323.4L620.8 1321.4L622.3 1319.5L623.8 1317.5L625.2 1315.5L626.6 1313.5L628.0 1311.5L629.4 1309.5L630.8 1307.4L632.1 1305.4L633.4 1303.3L634.7 1301.3L636.0 1299.2L637.3 1297.1L638.5 1295.0L639.7 1292.9L640.9 1290.8L642.1 1288.6L643.3 1286.5L644.4 1284.3L645.5 1282.2L646.6 1280.0L647.7 1277.8L648.8 1275.7L649.9 1273.5L651.0 1271.3L652.0 1269.1L653.0 1266.9L654.1 1264.6L655.1 1262.4L656.1 1260.2L657.1 1258.0L658.1 1255.7L659.1 1253.5L660.1 1251.2L661.1 1249.0L662.1 1246.7L663.1 1244.5L664.0 1242.2L665.0 1239.9L665.9 1237.7L666.9 1235.4L667.8 1233.1L668.7 1230.8L669.7 1228.5L670.6 1226.2L671.5 1223.9L672.4 1221.6L673.3 1219.3L674.2 1217.0L675.1 1214.7L676.0 1212.4L676.8 1210.1L677.7 1207.7L678.6 1205.4L679.4 1203.1L680.3 1200.7L681.1 1198.4L682.0 1196.1L682.8 1193.7L683.7 1191.4L684.5 1189.0L685.3 1186.7L686.1 1184.3L686.9 1182.0L687.7 1179.6L688.5 1177.3L689.3 1174.9L690.1 1172.5L690.9 1170.2L691.7 1167.8L692.5 1165.4L693.3 1163.0L694.0 1160.7L694.8 1158.3L695.6 1155.9L696.3 1153.5L697.1 1151.1L697.8 1148.7L698.6 1146.4L699.3 1144.0L700.0 1141.6L700.8 1139.2L701.5 1136.8L702.2 1134.4L703.0 1132.0L703.7 1129.6L704.4 1127.2L705.1 1124.8L705.8 1122.4L706.5 1120.0L707.2 1117.6L707.9 1115.2L708.6 1112.8L709.3 1110.4L710.0 1108.0L710.7 1105.6L711.3 1103.2L712.0 1100.8L712.7 1098.4L713.3 1095.9L714.0 1093.5L714.7 1091.1L715.3 1088.7L716.0 1086.3L716.6 1083.9L717.3 1081.4L717.9 1079.0L718.5 1076.6L719.2 1074.2L719.8 1071.8L720.4 1069.3L721.0 1066.9L721.6 1064.5L722.2 1062.0L722.8 1059.6L723.4 1057.2L724.0 1054.8L724.6 1052.3L725.2 1049.9L725.8 1047.5L726.4 1045.0L727.0 1042.6L727.5 1040.2L728.1 1037.7L728.7 1035.3L729.2 1032.8L729.8 1030.4L730.3 1028.0L730.9 1025.5L731.4 1023.1L732.0 1020.6L732.5 1018.2L733.0 1015.7L733.6 1013.3L734.1 1010.8L734.6 1008.4L735.1 1005.9L735.6 1003.5L736.1 1001.0L736.6 998.6L737.1 996.1L737.6 993.7L738.1 991.2L738.6 988.8L739.1 986.3L739.5 983.9L740.0 981.4L740.5 979.0L740.9 976.5L741.4 974.1L741.8 971.6L742.3 969.1L742.7 966.7L743.2 964.2L743.6 961.8L744.0 959.3L744.5 956.8L744.9 954.4L745.3 951.9L745.7 949.4L746.1 947.0L746.5 944.5L746.9 942.0L747.3 939.6L747.7 937.1L748.1 934.6L748.5 932.2L748.8 929.7L749.2 927.2L749.6 924.8L749.9 922.3L750.3 919.8L750.7 917.4L751.0 914.9L751.3 912.4L751.7 910.0L752.0 907.5L752.3 905.0L752.7 902.5L753.0 900.1L753.3 897.6L753.6 895.1L753.9 892.6L754.2 890.2L754.5 887.7L754.8 885.2L755.1 882.7L755.4 880.3L755.7 877.8L756.0 875.3L756.3 872.8L756.5 870.3L756.8 867.9L757.1 865.4L757.3 862.9L757.6 860.4L757.9 858.0L758.1 855.5L758.4 853.0L758.6 850.5L758.9 848.0L759.1 845.5L759.4 843.1L759.6 840.6L759.8 838.1L760.1 835.6L760.3 833.1L760.5 830.6L760.8 828.2L761.0 825.7L761.2 823.2L761.5 820.7L761.7 818.2L761.9 815.7L762.1 813.2L762.3 810.8L762.6 808.3L762.8 805.8L763.0 803.3L763.2 800.8L763.4 798.3L763.6 795.8L763.8 793.3L764.1 790.9L764.3 788.4L764.5 785.9L764.7 783.4L764.9 780.9L765.1 778.4L765.3 775.9L765.5 773.4L765.7 770.9L765.9 768.4L766.1 765.9L766.3 763.4L766.6 761.0L766.8 758.5L767.0 756.0L767.2 753.5L767.4 751.0L767.6 748.5L767.8 746.0L768.0 743.5L768.2 741.0L768.4 738.5L768.6 736.0L768.9 733.5L769.1 731.0L769.3 728.5L769.5 726.0L769.7 723.5L769.9 721.0L770.2 718.5L770.4 716.0L770.6 713.5L770.8 711.0L771.1 708.5L771.3 706.0L771.5 703.5L771.8 701.0L772.0 698.5L772.2 696.0L772.5 693.5L772.7 691.0L773.0 688.5L773.2 686.0L773.5 683.5L773.7 681.0L774.0 678.5L774.2 676.0L774.5 673.6L774.8 671.1L775.0 668.6L775.3 666.1L775.6 663.6L775.9 661.1L776.2 658.6L776.5 656.1L776.8 653.7L777.1 651.2L777.4 648.7L777.7 646.2L778.0 643.8L778.3 641.3L778.6 638.9L778.9 636.4L779.3 633.9L779.6 631.5L780.0 629.1L780.3 626.6L780.7 624.2L781.0 621.8L781.4 619.3L781.8 616.9L782.2 614.5L782.6 612.1L783.0 609.7L783.3 607.3L783.7 604.9L784.1 602.5L784.6 600.1L785.0 597.7L785.3 595.3L785.7 592.9L786.1 590.5L786.5 588.1L786.9 585.7L787.3 583.2L787.7 580.8L788.0 578.4L788.4 575.9L788.7 573.4L789.0 571.0L789.3 568.5L789.6 566.0L789.9 563.5L790.2 560.9L790.4 558.4L790.7 555.8L790.9 553.2L791.1 550.6L791.3 548.0L791.4 545.3L791.6 542.7L791.7 540.0L791.9 537.3L792.0 534.7L792.2 532.0L792.4 529.3L792.6 526.6L792.8 524.0L793.1 521.3L793.4 518.7L793.7 516.1L794.0 513.5L794.4 511.0L794.9 508.4L795.4 505.9L796.0 503.5L796.6 501.1L797.3 498.7L798.1 496.3L799.0 494.0L799.9 491.8L801.0 489.6L802.1 487.5L803.3 485.4L804.6 483.4L806.0 481.6L807.4 479.9L808.9 478.4L810.3 477.2L811.8 476.4L813.1 475.9L814.4 475.8L815.6 476.1L816.8 476.8L817.9 477.7L818.9 479.0L819.9 480.5L820.8 482.3L821.7 484.3L822.5 486.6L823.3 489.0L824.1 491.5L824.7 494.2L825.4 497.0L826.0 499.8L826.6 502.8L827.1 505.7L827.6 508.7L828.1 511.6L828.5 514.5L829.0 517.3L829.4 520.2L829.7 522.9L830.1 525.7L830.4 528.4L830.7 531.1L831.0 533.7L831.3 536.3L831.5 538.9L831.7 541.5L831.9 544.0L832.1 546.6L832.3 549.1L832.5 551.6L832.7 554.0L832.8 556.5L833.0 558.9L833.1 561.4L833.2 563.8L833.4 566.2L833.5 568.6L833.6 571.1L833.7 573.5L833.8 575.9L833.9 578.3L834.1 580.7L834.2 583.1L834.3 585.6L834.4 588.0L834.5 590.5L834.6 592.9L834.8 595.4L834.9 597.8L835.0 600.3L835.2 602.7L835.3 605.2L835.4 607.7L835.6 610.2L835.7 612.6L835.8 615.1L836.0 617.6L836.1 620.1L836.3 622.6L836.4 625.1L836.6 627.6L836.7 630.1L836.9 632.6L837.0 635.0L837.2 637.5L837.4 640.0L837.5 642.6L837.7 645.1L837.9 647.6L838.0 650.1L838.2 652.6L838.4 655.1L838.6 657.6L838.8 660.1L838.9 662.6L839.1 665.1L839.3 667.6L839.5 670.1L839.7 672.5L839.9 675.0L840.1 677.5L840.3 680.0L840.5 682.5L840.7 685.0L840.9 687.5L841.1 689.9L841.4 692.4L841.6 694.9L841.8 697.4L842.0 699.8L842.2 702.3L842.5 704.8L842.7 707.2L842.9 709.7L843.2 712.2L843.4 714.6L843.6 717.1L843.9 719.5L844.1 722.0L844.4 724.5L844.6 726.9L844.9 729.4L845.1 731.8L845.4 734.3L845.6 736.7L845.9 739.1L846.2 741.6L846.4 744.0L846.7 746.5L847.0 748.9L847.2 751.3L847.5 753.8L847.8 756.2L848.1 758.7L848.3 761.1L848.6 763.5L848.9 766.0L849.2 768.4L849.5 770.8L849.8 773.3L850.1 775.7L850.4 778.1L850.7 780.5L851.0 783.0L851.2 785.4L851.6 787.8L851.9 790.3L852.2 792.7L852.5 795.1L852.8 797.5L853.1 800.0L853.4 802.4L853.7 804.8L854.0 807.2L854.3 809.7L854.7 812.1L855.0 814.5L855.3 816.9L855.6 819.4L855.9 821.8L856.3 824.2L856.6 826.6L856.9 829.1L857.3 831.5L857.6 833.9L857.9 836.3L858.3 838.8L858.6 841.2L858.9 843.6L859.3 846.1L859.6 848.5L860.0 850.9L860.3 853.4L860.7 855.8L861.0 858.2L861.3 860.6L861.7 863.1L862.0 865.5L862.4 868.0L862.8 870.4L863.1 872.8L863.5 875.3L863.8 877.7L864.2 880.1L864.5 882.6L864.9 885.0L865.3 887.5L865.6 889.9L866.0 892.4L866.4 894.8L866.7 897.3L867.1 899.7L867.5 902.2L867.8 904.6L868.2 907.1L868.6 909.5L869.0 912.0L869.4 914.4L869.7 916.9L870.1 919.3L870.5 921.8L870.9 924.2L871.3 926.7L871.7 929.1L872.1 931.6L872.5 934.1L872.9 936.5L873.3 939.0L873.7 941.4L874.1 943.9L874.5 946.4L874.9 948.8L875.3 951.3L875.7 953.7L876.1 956.2L876.6 958.7L877.0 961.1L877.4 963.6L877.8 966.0L878.3 968.5L878.7 971.0L879.1 973.4L879.6 975.9L880.0 978.4L880.5 980.8L880.9 983.3L881.4 985.7L881.8 988.2L882.3 990.7L882.7 993.1L883.2 995.6L883.6 998.1L884.1 1000.5L884.6 1003.0L885.1 1005.4L885.5 1007.9L886.0 1010.4L886.5 1012.8L887.0 1015.3L887.5 1017.8L888.0 1020.2L888.5 1022.7L889.0 1025.1L889.5 1027.6L890.0 1030.0L890.5 1032.5L891.1 1035.0L891.6 1037.4L892.1 1039.9L892.6 1042.3L893.2 1044.8L893.7 1047.2L894.2 1049.7L894.8 1052.2L895.3 1054.6L895.9 1057.1L896.5 1059.5L897.0 1062.0L897.6 1064.4L898.2 1066.9L898.7 1069.3L899.3 1071.8L899.9 1074.2L900.5 1076.6L901.1 1079.1L901.7 1081.5L902.3 1084.0L902.9 1086.4L903.5 1088.9L904.1 1091.3L904.8 1093.7L905.4 1096.2L906.0 1098.6L906.7 1101.0L907.3 1103.5L907.9 1105.9L908.6 1108.3L909.3 1110.8L909.9 1113.2L910.6 1115.6L911.3 1118.0L911.9 1120.5L912.6 1122.9L913.3 1125.3L914.0 1127.7L914.7 1130.2L915.4 1132.6L916.1 1135.0L916.8 1137.4L917.6 1139.8L918.3 1142.2L919.0 1144.6L919.7 1147.0L920.5 1149.4L921.2 1151.8L922.0 1154.2L922.8 1156.7L923.5 1159.0L924.3 1161.4L925.1 1163.8L925.9 1166.2L926.7 1168.6L927.5 1171.0L928.3 1173.4L929.1 1175.8L929.9 1178.2L930.7 1180.5L931.6 1182.9L932.4 1185.3L933.3 1187.6L934.2 1189.9L935.1 1192.3L936.0 1194.6L937.0 1196.9L938.0 1199.2L938.9 1201.5L940.0 1203.7L941.0 1206.0L942.1 1208.2L943.1 1210.4L944.3 1212.6L945.4 1214.8L946.6 1216.9L947.8 1219.0L949.0 1221.2L950.3 1223.2L951.6 1225.3L952.9 1227.3L954.3 1229.3L955.7 1231.3L957.2 1233.3L958.7 1235.2L960.2 1237.1L961.8 1238.9L963.4 1240.8L965.1 1242.6L966.8 1244.3L968.6 1246.1L970.4 1247.7L972.2 1249.4L974.2 1251.0L976.1 1252.6L978.1 1254.1L980.2 1255.6L982.4 1257.1L984.5 1258.5L986.8 1259.9L989.1 1261.1L991.4 1262.3L993.8 1263.3L996.1 1264.2L998.5 1264.9L1001.0 1265.4L1003.4 1265.7L1005.8 1265.8L1008.3 1265.6L1010.7 1265.2L1013.1 1264.6L1015.5 1263.8L1017.8 1262.9L1020.1 1261.8L1022.4 1260.5L1024.7 1259.2L1026.9 1257.8L1029.0 1256.3L1031.1 1254.7L1033.1 1253.2L1035.0 1251.5L1036.9 1249.9L1038.7 1248.2L1040.6 1246.5L1042.4 1244.8L1044.1 1243.0L1045.9 1241.3L1047.7 1239.5L1049.5 1237.7L1051.3 1236.0L1053.1 1234.2L1055.0 1232.4L1057.0 1230.7L1058.9 1228.9L1061.0 1227.2L1063.0 1225.5L1065.2 1223.9L1067.3 1222.3L1069.5 1220.7L1071.7 1219.2L1073.9 1217.8L1076.2 1216.5L1078.4 1215.2L1080.7 1214.0L1083.0 1213.0L1085.3 1212.0L1087.6 1211.2L1089.8 1210.5L1092.1 1210.0L1094.3 1209.5L1096.5 1209.3L1098.7 1209.2L1100.9 1209.3L1103.0 1209.5L1105.1 1209.9L1107.1 1210.6L1109.1 1211.4L1111.1 1212.4L1113.0 1213.7L1114.8 1215.2L1116.6 1216.8L1118.3 1218.7L1119.9 1220.6L1121.5 1222.7L1123.0 1225.0L1124.5 1227.3L1125.8 1229.7L1127.2 1232.1L1128.4 1234.6L1129.6 1237.1L1130.7 1239.6L1131.8 1242.1L1132.8 1244.5L1133.7 1246.9L1134.6 1249.3L1135.4 1251.7L1136.2 1254.0L1137.0 1256.3L1137.8 1258.6L1138.6 1261.0L1139.3 1263.3L1140.1 1265.7L1141.0 1268.1L1141.8 1270.5L1142.7 1273.0L1143.7 1275.5L1144.7 1278.0L1145.8 1280.6L1146.9 1283.2L1148.1 1285.7L1149.4 1288.2L1150.6 1290.7L1152.0 1293.0L1153.3 1295.2L1154.7 1297.3L1156.2 1299.3L1157.6 1301.0L1159.2 1302.6L1160.7 1303.9L1162.2 1305.0L1163.8 1305.8L1165.4 1306.3L1167.1 1306.5L1168.7 1306.4L1170.3 1306.0L1172.0 1305.2L1173.7 1304.2L1175.4 1303.0L1177.1 1301.5L1178.9 1299.9L1180.6 1298.0L1182.4 1296.1L1184.2 1294.0L1186.0 1291.8L1187.9 1289.5L1189.7 1287.2L1191.6 1284.9L1193.6 1282.6L1195.5 1280.3L1197.5 1278.0L1199.5 1275.9L1201.5 1273.8L1203.6 1271.9L1205.7 1270.1L1207.8 1268.5L1210.0 1267.0L1212.1 1265.7L1214.3 1264.6L1216.5 1263.7L1218.7 1262.9L1220.9 1262.3L1223.1 1261.9L1225.3 1261.7L1227.5 1261.7L1229.6 1262.0L1231.8 1262.5L1233.9 1263.1L1236.1 1264.1L1238.1 1265.2L1240.2 1266.4L1242.3 1267.9L1244.3 1269.5L1246.2 1271.2L1248.2 1273.0L1250.0 1274.9L1251.9 1276.9L1253.7 1278.9L1255.4 1281.0L1257.1 1283.1L1258.8 1285.2L1260.3 1287.2L1261.9 1289.3L1263.4 1291.4L1264.8 1293.4L1266.3 1295.5L1267.7 1297.6L1269.1 1299.6L1270.5 1301.6L1271.9 1303.7L1273.3 1305.7L1274.7 1307.7L1276.1 1309.7L1277.6 1311.6L1279.0 1313.6L1280.6 1315.6L1282.1 1317.5L1283.7 1319.4L1285.3 1321.4L1286.9 1323.3L1288.6 1325.1L1290.3 1327.0L1292.0 1328.8L1293.8 1330.7L1295.5 1332.5L1297.3 1334.2L1299.2 1336.0L1301.0 1337.7L1302.9 1339.4L1304.8 1341.1L1306.7 1342.8L1308.7 1344.4L1310.7 1346.0L1312.7 1347.5L1314.7 1349.1L1316.7 1350.6L1318.8 1352.0L1320.8 1353.5L1322.9 1354.9L1325.1 1356.2L1327.2 1357.6L1329.4 1358.8L1331.5 1360.1L1333.7 1361.3L1335.9 1362.5L1338.1 1363.6L1340.4 1364.7L1342.6 1365.7L1344.9 1366.7L1347.2 1367.7L1349.5 1368.6L1351.8 1369.4L1354.1 1370.2L1356.5 1371.0L1358.8 1371.7L1361.2 1372.4L1363.6 1373.0L1365.9 1373.5L1368.3 1374.0L1370.7 1374.5L1373.2 1374.9L1375.6 1375.2L1378.0 1375.5L1380.4 1375.7L1382.9 1375.8L1385.3 1375.9L1387.8 1376.0L1390.3 1376.0L1392.7 1375.9L1395.2 1375.8L1397.7 1375.7L1400.2 1375.5L1402.7 1375.3L1405.2 1375.0L1407.7 1374.7L1410.2 1374.4L1412.7 1374.0L1415.2 1373.6L1417.7 1373.2L1420.2 1372.8L1422.7 1372.3L1425.2 1371.9L1427.8 1371.4L1430.3 1370.9L1432.8 1370.4L1435.3 1369.9L1437.9 1369.4L1440.4 1368.9L1442.9 1368.4L1445.4 1367.9L1448.0 1367.4L1450.5 1366.9L1453.0 1366.4L1455.5 1365.9L1458.1 1365.5L1460.6 1365.0L1463.1 1364.6L1465.6 1364.2L1468.1 1363.8L1470.6 1363.5L1473.1 1363.2L1475.6 1362.9L1478.1 1362.7L1480.6 1362.5L1483.1 1362.3L1485.6 1362.2L1488.0 1362.1L1490.5 1362.1L1493.0 1362.1L1495.4 1362.2L1497.9 1362.3L1500.3 1362.4L1502.7 1362.6L1505.2 1362.8L1507.6 1363.1L1510.0 1363.4L1512.5 1363.7L1514.9 1364.1L1517.3 1364.5L1519.7 1364.9L1522.1 1365.3L1524.5 1365.8L1526.9 1366.3L1529.3 1366.9L1531.7 1367.4L1534.1 1368.0L1536.5 1368.6L1538.9 1369.3L1541.3 1369.9L1543.7 1370.6L1546.1 1371.3L1548.4 1372.0L1550.8 1372.7L1553.2 1373.4L1555.6 1374.2L1557.9 1375.0L1560.3 1375.7L1562.7 1376.5L1565.1 1377.3L1567.4 1378.1L1569.8 1379.0L1572.2 1379.8L1574.5 1380.6L1576.9 1381.4L1579.3 1382.3L1581.6 1383.1L1584.0 1383.9L1586.4 1384.8L1588.8 1385.6L1591.1 1386.4L1593.5 1387.2L1595.9 1388.1L1598.3 1388.9L1600.6 1389.7L1603.0 1390.5L1605.4 1391.3L1607.8 1392.0L1610.2 1392.8L1612.5 1393.5L1614.9 1394.3L1617.3 1395.0L1619.7 1395.7L1622.1 1396.4L1624.5 1397.0L1626.9 1397.7L1629.3 1398.3L1631.7 1398.9L1634.1 1399.5L1636.6 1400.0L1639.0 1400.5L1641.4 1401.0L1643.8 1401.5L1646.3 1401.9L1648.7 1402.3L1651.2 1402.6L1653.6 1403.0L1656.1 1403.2L1658.5 1403.5L1661.0 1403.7L1663.5 1403.9L1666.0 1404.0L1668.5 1404.0L1670.9 1404.1L1673.4 1404.1L1675.9 1404.0L1678.5 1403.9L1681.0 1403.7L1683.5 1403.5L1686.0 1403.3L1688.6 1403.1L1691.1 1402.9L1693.6 1402.6L1696.2 1402.4L1698.7 1402.1L1701.2 1401.9L1703.8 1401.7L1706.3 1401.5L1708.8 1401.4L1711.3 1401.3L1713.8 1401.3L1716.4 1401.3L1718.9 1401.3L1721.4 1401.4L1723.9 1401.5L1726.3 1401.7L1728.8 1401.8L1731.3 1402.0L1733.8 1402.3L1736.3 1402.5L1738.7 1402.8L1741.2 1403.2L1743.7 1403.5L1746.1 1403.9L1748.6 1404.2L1751.1 1404.6L1753.5 1405.0L1756.0 1405.5L1758.4 1405.9L1760.9 1406.4L1763.3 1406.8L1765.8 1407.3L1768.2 1407.8L1770.7 1408.2L1773.1 1408.7L1775.6 1409.2L1778.0 1409.7L1780.5 1410.1L1782.9 1410.6L1785.4 1411.1L1787.8 1411.6L1790.3 1412.0L1792.7 1412.5L1795.2 1412.9L1797.6 1413.4L1800.1 1413.9L1802.5 1414.3L1805.0 1414.8L1807.4 1415.2L1809.9 1415.6L1812.3 1416.0L1814.8 1416.5L1817.2 1416.9L1819.7 1417.3L1822.2 1417.7L1824.6 1418.1L1827.1 1418.5L1829.5 1418.8L1832.0 1419.2L1834.5 1419.6L1836.9 1419.9L1839.4 1420.2L1841.8 1420.6L1844.3 1420.9L1846.8 1421.2L1849.2 1421.5L1851.7 1421.8L1854.2 1422.1L1856.6 1422.3L1859.1 1422.6L1861.6 1422.8L1864.1 1423.0L1866.6 1423.2L1869.0 1423.4L1871.5 1423.6L1874.0 1423.8L1876.5 1423.9L1879.0 1424.1L1881.5 1424.2L1883.9 1424.3L1886.4 1424.4L1888.9 1424.5L1891.4 1424.6L1893.9 1424.7L1896.4 1424.7L1898.9 1424.8L1901.4 1424.8L1903.9 1424.9L1906.4 1424.9L1908.9 1424.9L1911.4 1425.0L1913.9 1425.0L1916.4 1425.0L1918.9 1425.0L1921.4 1425.1L1923.9 1425.1L1926.4 1425.1L1928.9 1425.1L1931.4 1425.1L1933.9 1425.2L1936.4 1425.2L1938.9 1425.2L1941.4 1425.3L1943.9 1425.3L1946.4 1425.3L1948.9 1425.4L1951.4 1425.4L1953.9 1425.5L1956.4 1425.6L1958.8 1425.7L1961.3 1425.8L1963.8 1425.9L1966.3 1426.0L1968.8 1426.1L1971.3 1426.3L1973.8 1426.4L1976.2 1426.6L1978.7 1426.8L1981.2 1427.0L1983.7 1427.2L1986.1 1427.4L1988.6 1427.7L1991.1 1427.9L1993.5 1428.2L1996.0 1428.5L1998.4 1428.8L2000.9 1429.2L2003.3 1429.6L2005.8 1430.0L2008.2 1430.4L2010.7 1430.8L2013.1 1431.3L2015.5 1431.8L2018.0 1432.3L2020.4 1432.8L2022.8 1433.4L2025.2 1434.0L2027.7 1434.6L2030.1 1435.3L2032.5 1436.0L2034.9 1436.7L2037.3 1437.5L2039.7 1438.2L2042.1 1439.1L2044.5 1439.9L2046.8 1440.8L2049.2 1441.7L2051.6 1442.7L2054.0 1443.7L2056.3 1444.7L2058.7 1445.8L2061.0 1446.9L2063.4 1448.0L2065.7 1449.2L2068.0 1450.5" stroke="#ff00ff" stroke-width="10" stroke-linecap="round" stroke-dasharray="32.0 30.7 5.0 30.4 5.0 29.8 32.0 25.0 5.0 30.0 5.0 30.2 32.0 31.1 5.0 31.6 5.0 31.0 32.0 30.4 5.0 29.8 5.0 30.5 32.0 30.5 5.0 29.6 5.0 30.5 32.0 31.1 5.0 29.9 5.0 30.1 32.0 30.2 5.0 30.1 5.0 30.4 32.0 29.8 5.0 31.1 5.0 30.7 32.0 29.5 5.0 29.4 5.0 22.2 32.0 31.8 5.0 29.5 5.0 30.8 32.0 29.7 5.0 30.3 5.0 30.4 32.0 29.2 5.0 29.8 5.0 30.8 32.0 29.6 5.0 28.7 5.0 32.7 32.0 28.6 5.0 29.8 5.0 31.6 32.0 29.2 5.0 29.0 5.0 26.4 38.7 27.4 5.0 29.9 5.0 29.3 32.0 30.3 5.0 30.5 5.0 27.7 32.0 25.1 5.0 30.2 5.0 31.8 32.0 33.8 5.0 30.8 5.0 35.7 50.5 33.0 5.0 30.3 5.0 30.2 32.0 28.1 5.0 30.1 5.0 30.5 32.0 31.3 5.0 29.4 5.0 30.6 32.0 28.6 5.0 29.8 5.0 31.4 32.0 28.9 5.0 29.2 5.0 31.4 32.0 3362.0" stroke-dashoffset="6568.4"/>
<path d="M359.2 1479.2L361.5 1478.7L363.8 1478.2L366.1 1477.7L368.4 1477.2L370.8 1476.7L373.2 1476.2L375.5 1475.7L378.0 1475.1L380.4 1474.6L382.8 1474.1L385.3 1473.6L387.7 1473.1L390.2 1472.6L392.7 1472.0L395.1 1471.5L397.6 1470.9L400.1 1470.4L402.6 1469.8L405.1 1469.2L407.6 1468.6L410.1 1468.0L412.6 1467.4L415.1 1466.8L417.6 1466.1L420.1 1465.5L422.6 1464.8L425.1 1464.1L427.6 1463.3L430.1 1462.6L432.5 1461.8L435.0 1461.0L437.4 1460.2L439.8 1459.4L442.2 1458.5L444.6 1457.7L447.0 1456.7L449.4 1455.8L451.7 1454.8L454.0 1453.9L456.3 1452.8L458.6 1451.8L460.8 1450.7L463.1 1449.6L465.3 1448.4L467.5 1447.2L469.6 1446.0L471.7 1444.8L473.8 1443.5L475.9 1442.2L478.0 1440.8L480.0 1439.5L482.0 1438.1L484.0 1436.6L485.9 1435.2L487.9 1433.7L489.8 1432.2L491.7 1430.6L493.5 1429.1L495.4 1427.5L497.2 1425.9L499.0 1424.2L500.8 1422.5L502.6 1420.9L504.3 1419.1L506.0 1417.4L507.7 1415.6L509.4 1413.9L511.1 1412.1L512.7 1410.2L514.4 1408.4L516.0 1406.5L517.6 1404.7L519.1 1402.8L520.7 1400.8L522.2 1398.9L523.8 1396.9L525.3 1395.0L526.8 1393.0L528.2 1391.0L529.7 1389.0L531.2 1386.9L532.6 1384.9L534.0 1382.8L535.4 1380.8L536.8 1378.7L538.2 1376.6L539.5 1374.5L540.9 1372.4L542.2 1370.2L543.6 1368.1L544.9 1365.9L546.2 1363.8L547.5 1361.6L548.7 1359.4L550.0 1357.2L551.3 1355.0L552.5 1352.8L553.8 1350.6L555.0 1348.4L556.2 1346.2L557.4 1344.0L558.6 1341.8L559.8 1339.6L561.0 1337.3L562.2 1335.1L563.3 1332.9L564.5 1330.6L565.6 1328.4L566.8 1326.1L567.9 1323.9L569.0 1321.6L570.2 1319.4L571.3 1317.1L572.4 1314.8L573.5 1312.6L574.5 1310.3L575.6 1308.0L576.7 1305.8L577.8 1303.5L578.8 1301.2L579.9 1298.9L580.9 1296.6L581.9 1294.4L583.0 1292.1L584.0 1289.8L585.0 1287.5L586.0 1285.2L587.0 1282.9L588.0 1280.6L588.9 1278.3L589.9 1276.0L590.9 1273.6L591.8 1271.3L592.8 1269.0L593.7 1266.7L594.7 1264.4L595.6 1262.0L596.5 1259.7L597.4 1257.4L598.3 1255.1L599.2 1252.7L600.1 1250.4L601.0 1248.0L601.9 1245.7L602.8 1243.4L603.6 1241.0L604.5 1238.7L605.4 1236.3L606.2 1234.0L607.0 1231.6L607.9 1229.2L608.7 1226.9L609.5 1224.5L610.3 1222.2L611.1 1219.8L611.9 1217.4L612.7 1215.0L613.5 1212.7L614.3 1210.3L615.1 1207.9L615.9 1205.5L616.6 1203.2L617.4 1200.8L618.1 1198.4L618.9 1196.0L619.6 1193.6L620.3 1191.2L621.1 1188.8L621.8 1186.4L622.5 1184.0L623.2 1181.7L623.9 1179.3L624.6 1176.9L625.3 1174.4L626.0 1172.0L626.7 1169.6L627.4 1167.2L628.0 1164.8L628.7 1162.4L629.3 1160.0L630.0 1157.6L630.6 1155.2L631.3 1152.8L631.9 1150.3L632.6 1147.9L633.2 1145.5L633.8 1143.1L634.4 1140.7L635.0 1138.2L635.6 1135.8L636.2 1133.4L636.8 1130.9L637.4 1128.5L638.0 1126.1L638.6 1123.7L639.2 1121.2L639.7 1118.8L640.3 1116.3L640.9 1113.9L641.4 1111.5L642.0 1109.0L642.5 1106.6L643.1 1104.2L643.6 1101.7L644.1 1099.3L644.7 1096.8L645.2 1094.4L645.7 1091.9L646.2 1089.5L646.7 1087.0L647.2 1084.6L647.7 1082.1L648.2 1079.7L648.7 1077.2L649.2 1074.8L649.7 1072.3L650.2 1069.9L650.7 1067.4L651.1 1065.0L651.6 1062.5L652.1 1060.1L652.5 1057.6L653.0 1055.2L653.4 1052.7L653.9 1050.2L654.3 1047.8L654.8 1045.3L655.2 1042.9L655.6 1040.4L656.1 1038.0L656.5 1035.5L656.9 1033.0L657.3 1030.6L657.8 1028.1L658.2 1025.7L658.6 1023.2L659.0 1020.7L659.4 1018.3L659.8 1015.8L660.2 1013.3L660.6 1010.9L661.0 1008.4L661.4 1005.9L661.7 1003.5L662.1 1001.0L662.5 998.5L662.9 996.1L663.2 993.6L663.6 991.1L664.0 988.7L664.3 986.2L664.7 983.7L665.0 981.3L665.4 978.8L665.7 976.3L666.1 973.9L666.4 971.4L666.8 968.9L667.1 966.5L667.4 964.0L667.8 961.5L668.1 959.0L668.4 956.6L668.7 954.1L669.1 951.6L669.4 949.1L669.7 946.7L670.0 944.2L670.3 941.7L670.6 939.3L670.9 936.8L671.2 934.3L671.5 931.8L671.8 929.4L672.1 926.9L672.4 924.4L672.7 921.9L673.0 919.4L673.2 917.0L673.5 914.5L673.8 912.0L674.1 909.5L674.4 907.1L674.6 904.6L674.9 902.1L675.2 899.6L675.4 897.1L675.7 894.7L676.0 892.2L676.2 889.7L676.5 887.2L676.7 884.7L677.0 882.2L677.2 879.8L677.5 877.3L677.7 874.8L678.0 872.3L678.2 869.8L678.4 867.3L678.7 864.9L678.9 862.4L679.2 859.9L679.4 857.4L679.6 854.9L679.8 852.4L680.1 849.9L680.3 847.5L680.5 845.0L680.8 842.5L681.0 840.0L681.2 837.5L681.4 835.0L681.6 832.5L681.8 830.0L682.1 827.6L682.3 825.1L682.5 822.6L682.7 820.1L682.9 817.6L683.1 815.1L683.3 812.6L683.5 810.1L683.7 807.6L683.9 805.2L684.1 802.7L684.3 800.2L684.5 797.7L684.7 795.2L684.9 792.7L685.1 790.2L685.3 787.7L685.5 785.2L685.7 782.7L685.9 780.2L686.1 777.7L686.2 775.2L686.4 772.7L686.6 770.3L686.8 767.8L687.0 765.3L687.2 762.8L687.4 760.3L687.5 757.8L687.7 755.3L687.9 752.8L688.1 750.3L688.3 747.8L688.4 745.3L688.6 742.8L688.8 740.3L689.0 737.8L689.1 735.3L689.3 732.8L689.5 730.3L689.7 727.8L689.8 725.3L690.0 722.8L690.2 720.3L690.4 717.8L690.5 715.3L690.7 712.8L690.9 710.3L691.1 707.8L691.2 705.3L691.4 702.8L691.6 700.3L691.7 697.8L691.9 695.3L692.1 692.8L692.3 690.3L692.4 687.8L692.6 685.3L692.8 682.8L692.9 680.3L693.1 677.8L693.3 675.3L693.5 672.8L693.6 670.3L693.8 667.8L694.0 665.3L694.1 662.8L694.3 660.3L694.5 657.8L694.7 655.3L694.8 652.8L695.0 650.3L695.2 647.8L695.3 645.3L695.5 642.8L695.7 640.3L695.9 637.8L696.0 635.3L696.2 632.8L696.4 630.3L696.6 627.8L696.7 625.3L696.9 622.8L697.1 620.3L697.2 617.8L697.4 615.3L697.6 612.8L697.8 610.3L697.9 607.7L698.1 605.2L698.3 602.7L698.5 600.2L698.6 597.7L698.8 595.2L699.0 592.7L699.2 590.2L699.3 587.7L699.5 585.2L699.7 582.7L699.9 580.2L700.0 577.7L700.2 575.2L700.4 572.7L700.6 570.2L700.7 567.7L700.9 565.2L701.1 562.7L701.3 560.2L701.4 557.7L701.6 555.2L701.8 552.7L702.0 550.2L702.1 547.7L702.3 545.2L702.5 542.7L702.7 540.2L702.8 537.7L703.0 535.2L703.2 532.7L703.4 530.2L703.5 527.8L703.7 525.3L703.9 522.8L704.1 520.3L704.2 517.8L704.4 515.3L704.6 512.8L704.8 510.3L704.9 507.8L705.1 505.3L705.3 502.8L705.5 500.3L705.6 497.8L705.8 495.3L706.0 492.9L706.2 490.4L706.4 487.9L706.5 485.4L706.7 482.9L706.9 480.4L707.1 477.9L707.2 475.4L707.4 473.0L707.6 470.5L707.8 468.0L707.9 465.5L708.1 463.0L708.3 460.5L708.5 458.1L708.6 455.6L708.8 453.1L709.0 450.6L709.2 448.1L709.4 445.7L709.5 443.2L709.7 440.7L709.9 438.2L710.1 435.7L710.2 433.3L710.4 430.8L710.6 428.3L710.8 425.9L710.9 423.4L711.1 420.9L711.3 418.4L711.5 416.0L711.6 413.5L711.8 411.0L712.0 408.6L712.2 406.1L712.3 403.6L712.5 401.2L712.7 398.7L712.9 396.2L713.1 393.8L713.2 391.3L713.4 388.9L713.6 386.4L713.8 383.9L713.9 381.5L714.1 379.0L714.3 376.6L714.5 374.1L714.6 371.7L714.8 369.2L715.0 366.7L715.2 364.3L715.3 361.8L715.5 359.4L715.7 356.9L715.9 354.5L716.0 352.1L716.2 349.6L716.4 347.2L716.6 344.7L716.8 342.3L716.9 339.8L717.1 337.3L717.3 334.9L717.5 332.4L717.7 330.0L717.9 327.5L718.1 325.0L718.3 322.5L718.5 320.1L718.7 317.6L718.9 315.1L719.1 312.6L719.4 310.1L719.6 307.6L719.8 305.1L720.0 302.5L720.3 300.0L720.5 297.5L720.8 294.9L721.0 292.4L721.3 289.8L721.6 287.2L721.9 284.6L722.1 282.1L722.4 279.5L722.7 276.8L723.0 274.2L723.4 271.6L723.7 268.9L724.0 266.3L724.4 263.6L724.7 260.9L725.1 258.2L725.4 255.5L725.8 252.8L726.2 250.1L726.6 247.4L727.1 244.7L727.5 242.1L728.0 239.5L728.6 237.0L729.2 234.5L729.8 232.1L730.5 229.8L731.2 227.6L732.0 225.5L732.8 223.5L733.7 221.6L734.7 219.9L735.8 218.2L736.9 216.8L738.1 215.5L739.2 214.6L740.4 214.0L741.5 213.9L742.5 214.1L743.4 214.8L744.4 215.8L745.2 217.1L746.0 218.7L746.8 220.6L747.5 222.8L748.1 225.2L748.7 227.8L749.3 230.6L749.8 233.5L750.3 236.6L750.7 239.8L751.2 243.0L751.5 246.3L751.9 249.7L752.2 253.0L752.5 256.3L752.8 259.5L753.1 262.7L753.3 265.8L753.5 268.8L753.7 271.7L753.9 274.6L754.1 277.4L754.2 280.1L754.4 282.7L754.5 285.3L754.7 287.9L754.8 290.4L754.9 292.9L755.0 295.3L755.1 297.8L755.2 300.2L755.2 302.6L755.3 304.9L755.4 307.3L755.5 309.7L755.6 312.1L755.6 314.5L755.7 316.9L755.8 319.3L755.9 321.7L756.0 324.1L756.0 326.5L756.1 328.9L756.2 331.3L756.3 333.8L756.4 336.2L756.5 338.6L756.5 341.1L756.6 343.5L756.7 346.0L756.8 348.4L756.9 350.9L757.0 353.4L757.1 355.8L757.2 358.3L757.2 360.8L757.3 363.2L757.4 365.7L757.5 368.2L757.6 370.7L757.7 373.2L757.8 375.6L757.9 378.1L758.0 380.6L758.1 383.1L758.2 385.6L758.3 388.1L758.4 390.6L758.5 393.1L758.6 395.6L758.7 398.1L758.8 400.6L758.9 403.2L759.0 405.7L759.1 408.2L759.2 410.7L759.3 413.2L759.5 415.7L759.6 418.2L759.7 420.8L759.8 423.3L759.9 425.8L760.0 428.3L760.2 430.8L760.3 433.4L760.4 435.9L760.5 438.4L760.7 440.9L760.8 443.4L760.9 446.0L761.1 448.5L761.2 451.0L761.3 453.5L761.5 456.0L761.6 458.6L761.8 461.1L761.9 463.6L762.0 466.1L762.2 468.6L762.3 471.1L762.5 473.6L762.7 476.2L762.8 478.7L763.0 481.2L763.1 483.7L763.3 486.2L763.4 488.7L763.6 491.2L763.8 493.7L763.9 496.2L764.1 498.7L764.3 501.2L764.5 503.7L764.6 506.2L764.8 508.7L765.0 511.2L765.2 513.7L765.3 516.1L765.5 518.6L765.7 521.1L765.9 523.6L766.0 526.1L766.2 528.6L766.4 531.1L766.6 533.6L766.8 536.1L766.9 538.5L767.1 541.0L767.3 543.5L767.5 546.0L767.7 548.5L767.9 551.0L768.0 553.5L768.2 555.9L768.4 558.4L768.6 560.9L768.8 563.4L768.9 565.9L769.1 568.3L769.3 570.8L769.5 573.3L769.6 575.8L769.8 578.3L770.0 580.8L770.2 583.2L770.3 585.7L770.5 588.2L770.7 590.7L770.9 593.2L771.0 595.6L771.2 598.1L771.4 600.6L771.5 603.1L771.7 605.6L771.8 608.1L772.0 610.5L772.2 613.0L772.3 615.5L772.5 618.0L772.6 620.5L772.8 623.0L772.9 625.5L773.0 627.9L773.2 630.4L773.3 632.9L773.5 635.4L773.6 637.9L773.7 640.4L773.9 642.9L774.0 645.4L774.1 647.9L774.3 650.4L774.4 652.9L774.5 655.3L774.6 657.8L774.7 660.3L774.9 662.8L775.0 665.3L775.1 667.8L775.2 670.3L775.3 672.8L775.4 675.3L775.6 677.8L775.7 680.3L775.8 682.8L775.9 685.3L776.0 687.8L776.1 690.3L776.2 692.8L776.3 695.3L776.4 697.8L776.5 700.3L776.6 702.8L776.7 705.3L776.8 707.8L776.9 710.3L777.0 712.8L777.1 715.3L777.2 717.8L777.3 720.3L777.4 722.8L777.5 725.3L777.6 727.8L777.7 730.3L777.8 732.8L777.9 735.3L778.0 737.8L778.1 740.3L778.2 742.8L778.2 745.3L778.3 747.8L778.4 750.3L778.5 752.8L778.6 755.3L778.7 757.8L778.8 760.3L778.9 762.8L779.0 765.3L779.1 767.9L779.2 770.4L779.3 772.9L779.4 775.4L779.5 777.9L779.6 780.4L779.7 782.9L779.8 785.4L779.9 787.9L780.0 790.4L780.1 792.9L780.2 795.4L780.3 797.9L780.4 800.4L780.5 802.9L780.6 805.4L780.7 807.9L780.8 810.4L780.9 812.9L781.0 815.4L781.1 817.9L781.2 820.4L781.3 822.9L781.4 825.5L781.6 828.0L781.7 830.5L781.8 833.0L781.9 835.5L782.0 838.0L782.1 840.5L782.3 843.0L782.4 845.5L782.5 848.0L782.6 850.5L782.8 853.0L782.9 855.5L783.0 858.0L783.2 860.5L783.3 863.0L783.4 865.5L783.6 868.0L783.7 870.5L783.9 873.0L784.0 875.5L784.2 878.0L784.3 880.5L784.5 883.0L784.6 885.5L784.8 888.0L784.9 890.5L785.1 893.0L785.3 895.5L785.4 898.0L785.6 900.5L785.8 903.0L785.9 905.4L786.1 907.9L786.3 910.4L786.5 912.9L786.7 915.4L786.8 917.9L787.0 920.4L787.2 922.9L787.4 925.4L787.6 927.9L787.8 930.4L788.0 932.9L788.2 935.4L788.4 937.8L788.7 940.3L788.9 942.8L789.1 945.3L789.3 947.8L789.5 950.3L789.8 952.8L790.0 955.3L790.2 957.7L790.5 960.2L790.7 962.7L791.0 965.2L791.2 967.7L791.5 970.2L791.7 972.6L792.0 975.1L792.3 977.6L792.5 980.1L792.8 982.5L793.1 985.0L793.4 987.5L793.6 990.0L793.9 992.5L794.2 994.9L794.5 997.4L794.8 999.9L795.1 1002.4L795.4 1004.8L795.8 1007.3L796.1 1009.8L796.4 1012.2L796.7 1014.7L797.0 1017.2L797.4 1019.6L797.7 1022.1L798.1 1024.6L798.4 1027.0L798.8 1029.5L799.1 1032.0L799.5 1034.4L799.9 1036.9L800.2 1039.4L800.6 1041.8L801.0 1044.3L801.4 1046.7L801.8 1049.2L802.2 1051.6L802.6 1054.1L803.0 1056.6L803.4 1059.0L803.8 1061.5L804.2 1063.9L804.7 1066.4L805.1 1068.8L805.5 1071.3L806.0 1073.7L806.4 1076.2L806.9 1078.6L807.3 1081.0L807.8 1083.5L808.3 1085.9L808.8 1088.4L809.2 1090.8L809.7 1093.3L810.2 1095.7L810.7 1098.1L811.2 1100.6L811.7 1103.0L812.3 1105.4L812.8 1107.9L813.3 1110.3L813.9 1112.7L814.4 1115.2L814.9 1117.6L815.5 1120.0L816.1 1122.5L816.6 1124.9L817.2 1127.3L817.8 1129.7L818.4 1132.1L819.0 1134.6L819.6 1137.0L820.2 1139.4L820.8 1141.8L821.4 1144.2L822.0 1146.7L822.6 1149.1L823.3 1151.5L823.9 1153.9L824.6 1156.3L825.2 1158.7L825.9 1161.1L826.6 1163.5L827.3 1165.9L827.9 1168.3L828.6 1170.7L829.3 1173.1L830.0 1175.5L830.8 1177.9L831.5 1180.3L832.2 1182.7L832.9 1185.1L833.7 1187.5L834.4 1189.9L835.2 1192.3L836.0 1194.7L836.8 1197.0L837.6 1199.4L838.4 1201.7L839.3 1204.1L840.3 1206.3L841.3 1208.6L842.3 1210.8L843.4 1213.0L844.6 1215.1L845.9 1217.2L847.2 1219.2L848.6 1221.2L850.1 1223.1L851.7 1224.9L853.5 1226.7L855.3 1228.4L857.2 1230.0L859.2 1231.4L861.2 1232.6L863.2 1233.6L865.3 1234.4L867.3 1234.9L869.3 1235.1L871.3 1235.0L873.2 1234.4L875.0 1233.6L876.7 1232.4L878.4 1230.9L880.0 1229.1L881.6 1227.1L883.1 1224.9L884.5 1222.5L885.9 1220.0L887.2 1217.4L888.5 1214.8L889.7 1212.0L890.9 1209.3L892.0 1206.6L893.1 1204.0L894.1 1201.4L895.2 1198.9L896.1 1196.5L897.1 1194.2L898.0 1191.9L898.9 1189.6L899.7 1187.4L900.5 1185.1L901.3 1182.8L902.0 1180.6L902.7 1178.2L903.4 1175.9L904.1 1173.5L904.7 1171.1L905.4 1168.6L906.0 1166.2L906.6 1163.7L907.2 1161.1L907.8 1158.6L908.4 1156.1L909.0 1153.6L909.6 1151.0L910.3 1148.5L910.9 1145.9L911.6 1143.4L912.3 1140.9L913.0 1138.4L913.8 1135.9L914.6 1133.4L915.5 1131.0L916.4 1128.6L917.4 1126.2L918.4 1123.8L919.5 1121.5L920.6 1119.3L921.8 1117.0L923.1 1114.9L924.4 1112.7L925.9 1110.7L927.4 1108.7L929.0 1106.7L930.6 1104.9L932.3 1103.3L934.1 1102.0L935.9 1100.9L937.6 1100.2L939.4 1099.9L941.2 1100.1L942.9 1100.7L944.6 1101.7L946.2 1103.0L947.9 1104.6L949.5 1106.5L951.0 1108.6L952.5 1110.9L954.0 1113.4L955.4 1115.9L956.7 1118.5L958.0 1121.0L959.3 1123.6L960.5 1126.2L961.6 1128.7L962.7 1131.2L963.7 1133.8L964.7 1136.3L965.7 1138.7L966.6 1141.2L967.5 1143.7L968.3 1146.1L969.1 1148.5L969.9 1150.9L970.6 1153.3L971.4 1155.7L972.1 1158.1L972.7 1160.4L973.4 1162.8L974.1 1165.1L974.7 1167.4L975.3 1169.7L975.9 1172.0L976.6 1174.3L977.2 1176.6L977.8 1178.9L978.4 1181.1L979.0 1183.4L979.7 1185.6L980.3 1187.9L980.9 1190.1L981.6 1192.4L982.2 1194.6L982.9 1196.9L983.5 1199.2L984.2 1201.5L984.9 1203.9L985.5 1206.3L986.2 1208.7L986.9 1211.1L987.6 1213.6L988.4 1216.1L989.1 1218.7L989.8 1221.3L990.6 1223.9L991.4 1226.6L992.2 1229.3L993.0 1232.0L993.9 1234.7L994.7 1237.4L995.6 1240.1L996.6 1242.8L997.5 1245.4L998.5 1248.0L999.6 1250.5L1000.6 1253.0L1001.8 1255.4L1002.9 1257.7L1004.1 1259.9L1005.4 1262.1L1006.7 1264.1L1008.0 1266.0L1009.5 1267.8L1010.9 1269.4L1012.5 1271.0L1014.1 1272.3L1015.7 1273.5L1017.5 1274.5L1019.3 1275.4L1021.1 1276.1L1023.0 1276.5L1025.0 1276.9L1027.0 1277.0L1029.1 1276.9L1031.2 1276.7L1033.3 1276.3L1035.4 1275.8L1037.5 1275.1L1039.6 1274.2L1041.7 1273.2L1043.7 1272.0L1045.8 1270.7L1047.8 1269.3L1049.9 1267.7L1051.9 1266.1L1053.9 1264.4L1055.9 1262.5L1057.9 1260.7L1059.8 1258.7L1061.8 1256.7L1063.8 1254.7L1065.7 1252.6L1067.7 1250.5L1069.7 1248.5L1071.6 1246.4L1073.6 1244.3L1075.5 1242.3L1077.5 1240.3L1079.5 1238.3L1081.4 1236.4L1083.4 1234.6L1085.4 1232.9L1087.3 1231.2L1089.3 1229.7L1091.3 1228.3L1093.3 1227.0L1095.4 1225.8L1097.4 1224.8L1099.4 1223.9L1101.5 1223.2L1103.5 1222.7L1105.6 1222.4L1107.7 1222.2L1109.8 1222.3L1112.0 1222.5L1114.1 1222.9L1116.2 1223.4L1118.4 1224.1L1120.5 1225.0L1122.7 1225.9L1124.8 1227.0L1126.9 1228.2L1129.1 1229.5L1131.2 1230.9L1133.3 1232.3L1135.4 1233.8L1137.4 1235.4L1139.5 1237.0L1141.5 1238.7L1143.5 1240.4L1145.5 1242.1L1147.5 1243.9L1149.4 1245.7L1151.4 1247.5L1153.3 1249.3L1155.2 1251.2L1157.1 1253.1L1158.9 1255.0L1160.8 1256.9L1162.6 1258.8L1164.5 1260.8L1166.3 1262.8L1168.1 1264.7L1169.9 1266.7L1171.7 1268.7L1173.5 1270.7L1175.3 1272.6L1177.1 1274.6L1178.8 1276.6L1180.6 1278.6L1182.4 1280.5L1184.2 1282.5L1185.9 1284.4L1187.7 1286.4L1189.5 1288.3L1191.2 1290.2L1193.0 1292.0L1194.8 1293.9L1196.6 1295.7L1198.4 1297.5L1200.2 1299.3L1202.0 1301.0L1203.8 1302.7L1205.7 1304.4L1207.5 1306.1L1209.4 1307.7L1211.2 1309.2L1213.1 1310.7L1215.0 1312.2L1216.9 1313.7L1218.8 1315.0L1220.8 1316.4L1222.8 1317.6L1224.7 1318.9L1226.7 1320.0L1228.8 1321.1L1230.8 1322.2L1232.9 1323.2L1235.0 1324.1L1237.1 1324.9L1239.2 1325.7L1241.4 1326.4L1243.6 1327.1L1245.8 1327.7L1248.0 1328.2L1250.3 1328.7L1252.5 1329.1L1254.8 1329.5L1257.1 1329.7L1259.4 1330.0L1261.8 1330.2L1264.1 1330.3L1266.5 1330.4L1268.9 1330.4L1271.3 1330.4L1273.7 1330.3L1276.1 1330.2L1278.5 1330.0L1281.0 1329.8L1283.4 1329.5L1285.8 1329.2L1288.3 1328.8L1290.8 1328.4L1293.2 1328.0L1295.7 1327.5L1298.2 1327.0L1300.7 1326.4L1303.2 1325.8L1305.7 1325.2L1308.2 1324.5L1310.6 1323.8L1313.1 1323.1L1315.6 1322.3L1318.1 1321.5L1320.6 1320.7L1323.1 1319.8L1325.5 1318.9L1328.0 1318.0L1330.5 1317.0L1332.9 1316.1L1335.4 1315.1L1337.8 1314.1L1340.2 1313.0L1342.6 1312.0L1345.0 1310.9L1347.4 1309.8L1349.8 1308.7L1352.2 1307.5L1354.5 1306.4L1356.9 1305.2L1359.2 1304.0L1361.5 1302.8L1363.8 1301.6L1366.1 1300.4L1368.3 1299.2L1370.5 1298.0L1372.8 1296.7L1374.9 1295.5L1377.1 1294.2L1379.3 1293.0L1381.4 1291.7L1383.5 1290.5L1385.5 1289.2L1387.6 1288.0L1389.6 1286.7L1391.7 1285.5L1393.7 1284.3L1395.8 1283.2L1397.8 1282.0L1399.9 1281.0L1401.9 1279.9L1404.0 1279.0L1406.1 1278.0L1408.3 1277.2L1410.4 1276.4L1412.6 1275.7L1414.9 1275.1L1417.2 1274.5L1419.5 1274.1L1421.9 1273.7L1424.4 1273.5L1426.9 1273.4L1429.5 1273.4L1432.1 1273.4L1434.8 1273.6L1437.5 1274.0L1440.2 1274.4L1442.9 1274.9L1445.6 1275.5L1448.2 1276.2L1450.9 1277.0L1453.5 1277.9L1456.0 1278.9L1458.4 1280.0L1460.8 1281.2L1463.1 1282.5L1465.2 1283.9L1467.3 1285.3L1469.2 1286.8L1471.0 1288.5L1472.7 1290.1L1474.2 1291.9L1475.7 1293.7L1477.1 1295.6L1478.4 1297.6L1479.6 1299.5L1480.9 1301.6L1482.0 1303.7L1483.2 1305.8L1484.4 1307.9L1485.6 1310.1L1486.8 1312.3L1488.0 1314.5L1489.3 1316.7L1490.6 1318.9L1492.0 1321.1L1493.6 1323.3L1495.2 1325.5L1496.9 1327.7L1498.7 1329.9L1500.6 1332.0L1502.6 1334.0L1504.7 1336.0L1506.8 1337.9L1509.0 1339.7L1511.2 1341.4L1513.4 1342.9L1515.7 1344.3L1517.9 1345.6L1520.2 1346.7L1522.4 1347.6L1524.7 1348.4L1526.9 1349.0L1529.1 1349.4L1531.3 1349.7L1533.6 1349.8L1535.8 1349.8L1538.0 1349.7L1540.1 1349.4L1542.3 1349.0L1544.5 1348.5L1546.7 1347.8L1548.8 1347.1L1551.0 1346.3L1553.2 1345.3L1555.3 1344.3L1557.4 1343.2L1559.6 1342.0L1561.7 1340.7L1563.9 1339.4L1566.0 1338.0L1568.1 1336.6L1570.2 1335.1L1572.4 1333.5L1574.5 1331.9L1576.6 1330.3L1578.7 1328.7L1580.8 1327.0L1582.9 1325.3L1585.1 1323.7L1587.2 1322.0L1589.3 1320.4L1591.5 1318.8L1593.6 1317.3L1595.8 1315.9L1598.0 1314.6L1600.2 1313.4L1602.4 1312.3L1604.6 1311.3L1606.9 1310.5L1609.1 1309.9L1611.5 1309.4L1613.8 1309.1L1616.1 1308.9L1618.5 1308.9L1620.8 1309.0L1623.2 1309.2L1625.6 1309.6L1627.9 1310.1L1630.3 1310.8L1632.6 1311.5L1635.0 1312.4L1637.3 1313.4L1639.6 1314.4L1641.9 1315.6L1644.2 1316.9L1646.4 1318.3L1648.6 1319.7L1650.8 1321.2L1652.9 1322.8L1655.0 1324.5L1657.1 1326.2L1659.1 1328.0L1661.0 1329.8L1662.9 1331.7L1664.8 1333.7L1666.5 1335.6L1668.3 1337.6L1669.9 1339.7L1671.5 1341.7L1673.1 1343.8L1674.6 1345.9L1676.1 1347.9L1677.6 1350.0L1679.1 1352.0L1680.6 1354.0L1682.1 1355.9L1683.6 1357.8L1685.2 1359.7L1686.8 1361.5L1688.4 1363.2L1690.1 1364.8L1691.9 1366.3L1693.8 1367.8L1695.7 1369.1L1697.7 1370.4L1699.9 1371.5L1702.0 1372.5L1704.3 1373.5L1706.6 1374.3L1709.0 1375.0L1711.4 1375.7L1713.9 1376.3L1716.4 1376.9L1718.9 1377.4L1721.4 1377.8L1724.0 1378.2L1726.5 1378.5L1729.1 1378.8L1731.6 1379.1L1734.1 1379.3L1736.7 1379.5L1739.2 1379.7L1741.7 1379.8L1744.3 1379.9L1746.8 1380.0L1749.3 1380.1L1751.9 1380.1L1754.4 1380.1L1756.9 1380.1L1759.4 1380.1L1762.0 1380.1L1764.5 1380.1L1767.0 1380.0L1769.5 1380.0L1772.0 1379.9L1774.5 1379.9L1777.0 1379.8L1779.5 1379.8L1782.0 1379.7L1784.5 1379.7L1787.0 1379.6L1789.5 1379.6L1792.0 1379.6L1794.5 1379.6L1797.0 1379.6L1799.5 1379.6L1802.0 1379.7L1804.4 1379.7L1806.9 1379.8L1809.4 1379.9L1811.9 1380.1L1814.3 1380.3L1816.8 1380.5L1819.3 1380.7L1821.7 1381.0L1824.2 1381.3L1826.6 1381.6L1829.1 1382.0L1831.5 1382.5L1833.9 1382.9L1836.4 1383.4L1838.8 1384.0L1841.2 1384.5L1843.7 1385.1L1846.1 1385.7L1848.5 1386.3L1851.0 1387.0L1853.4 1387.6L1855.8 1388.3L1858.2 1389.0L1860.6 1389.7L1863.1 1390.4L1865.5 1391.1L1867.9 1391.8L1870.3 1392.4L1872.7 1393.1L1875.2 1393.8L1877.6 1394.5L1880.0 1395.1L1882.4 1395.8L1884.9 1396.4L1887.3 1397.1L1889.7 1397.7L1892.1 1398.4L1894.6 1399.0L1897.0 1399.6L1899.4 1400.2L1901.9 1400.8L1904.3 1401.4L1906.7 1402.0L1909.1 1402.6L1911.6 1403.2L1914.0 1403.8L1916.4 1404.4L1918.9 1404.9L1921.3 1405.5L1923.7 1406.1L1926.2 1406.6L1928.6 1407.2L1931.1 1407.7L1933.5 1408.2L1935.9 1408.8L1938.4 1409.3L1940.8 1409.8L1943.3 1410.4L1945.7 1410.9L1948.1 1411.4L1950.6 1411.9L1953.0 1412.4L1955.5 1412.9L1957.9 1413.4L1960.4 1413.9L1962.8 1414.4L1965.3 1414.9L1967.7 1415.3L1970.2 1415.8L1972.6 1416.3L1975.0 1416.8L1977.5 1417.2L1980.0 1417.7L1982.4 1418.2L1984.9 1418.6L1987.3 1419.1L1989.8 1419.5L1992.2 1420.0L1994.7 1420.4L1997.1 1420.8L1999.6 1421.3L2002.0 1421.7L2004.5 1422.1L2007.0 1422.6L2009.4 1423.0L2011.9 1423.4L2014.3 1423.8L2016.8 1424.3L2019.3 1424.7L2021.7 1425.1L2024.2 1425.5L2026.7 1425.9L2029.1 1426.3L2031.6 1426.7L2034.1 1427.1L2036.5 1427.5L2039.0 1427.9L2041.5 1428.3L2043.9 1428.7L2046.4 1429.1L2048.9 1429.5L2051.4 1429.9L2053.8 1430.3L2056.3 1430.7L2058.8 1431.1L2061.3 1431.4L2063.7 1431.8L2066.2 1432.2L2068.7 1432.6L2071.2 1433.0L2073.7 1433.4L2076.1 1433.7" stroke="#960000" stroke-width="10" stroke-linecap="round" stroke-dasharray="45.0 54.2 45.0 61.0 45.0 61.9 45.0 59.4 45.0 58.4 45.0 59.8 45.0 58.3 45.0 59.5 45.0 60.2 45.0 56.6 45.0 60.3 45.0 58.8 45.0 57.1 45.0 57.7 45.0 59.0 45.0 59.7 45.0 58.7 45.0 57.2 45.0 59.7 45.0 59.3 45.0 58.6 45.0 57.1 45.0 55.8 45.0 59.4 45.0 55.6 45.0 60.0 45.0 49.7 82.7 55.1 45.0 57.6 45.0 58.8 45.0 58.3 45.0 46.6 45.0 56.1 45.0 58.2 45.0 71.3 45.0 58.0 45.0 59.1 45.0 56.4 45.0 4116.9" stroke-dashoffset="8112.1"/>
<polygon points="1005.1,1266.2 1007.4,1264.4 1025,1267.3 1042.7,1270.3 1055,1258 1062,1264.5 1051.8,1275.4 1044.9,1282.2 1038.5,1286.4 1032.6,1288.9 1024.8,1288.9 1021.1,1287.7 1015.6,1284.1 1010.1,1279 1005.1,1271.2" fill="#960000"/>
</g>
<g stroke="#000" stroke-width="6" fill="none" stroke-linecap="butt">
<rect x="358" y="91" width="1724" height="1392" stroke-linejoin="miter"/>
<path d="M358 1486 v25 M358 94 v25 M502 1486 v11 M502 94 v11 M645 1486 v25 M645 94 v25 M789 1486 v11 M789 94 v11 M933 1486 v25 M933 94 v25 M1076 1486 v11 M1076 94 v11 M1220 1486 v25 M1220 94 v25 M1364 1486 v11 M1364 94 v11 M1507 1486 v25 M1507 94 v25 M1651 1486 v11 M1651 94 v11 M1795 1486 v25 M1795 94 v25 M1938 1486 v11 M1938 94 v11 M2082 1486 v25 M2082 94 v25 M355 1483.0 h-25 M2079 1483.0 h-25 M355 1367.0 h-11 M2079 1367.0 h-11 M355 1251.0 h-25 M2079 1251.0 h-25 M355 1135.0 h-11 M2079 1135.0 h-11 M355 1019.0 h-25 M2079 1019.0 h-25 M355 903.0 h-11 M2079 903.0 h-11 M355 787.0 h-25 M2079 787.0 h-25 M355 671.0 h-11 M2079 671.0 h-11 M355 555.0 h-25 M2079 555.0 h-25 M355 439.0 h-11 M2079 439.0 h-11 M355 323.0 h-25 M2079 323.0 h-25 M355 207.0 h-11 M2079 207.0 h-11 M355 91.0 h-25 M2079 91.0 h-25"/>
</g>
<g font-family="Liberation Serif, Times New Roman, serif" font-size="72" fill="#000">
<text transform="translate(358.0,1586) scale(1,1.05)" text-anchor="middle">0</text>
<text transform="translate(645.3,1586) scale(1,1.05)" text-anchor="middle">500</text>
<text transform="translate(932.7,1586) scale(1,1.05)" text-anchor="middle">1000</text>
<text transform="translate(1220.0,1586) scale(1,1.05)" text-anchor="middle">1500</text>
<text transform="translate(1507.3,1586) scale(1,1.05)" text-anchor="middle">2000</text>
<text transform="translate(1794.7,1586) scale(1,1.05)" text-anchor="middle">2500</text>
<text transform="translate(2082.0,1586) scale(1,1.05)" text-anchor="middle">3000</text>
<text transform="translate(311.5,1506.0) scale(1,1.05)" text-anchor="end">0.000</text>
<text transform="translate(311.5,1274.0) scale(1,1.05)" text-anchor="end">0.005</text>
<text transform="translate(311.5,1042.0) scale(1,1.05)" text-anchor="end">0.010</text>
<text transform="translate(311.5,810.0) scale(1,1.05)" text-anchor="end">0.015</text>
<text transform="translate(311.5,578.0) scale(1,1.05)" text-anchor="end">0.020</text>
<text transform="translate(311.5,346.0) scale(1,1.05)" text-anchor="end">0.025</text>
<text transform="translate(311.5,114.0) scale(1,1.05)" text-anchor="end">0.030</text>
</g>
<text x="1220.4" y="1664" text-anchor="middle" font-family="Liberation Serif, serif" font-weight="bold" font-size="72.7">Occurred time (s)</text>
<text transform="translate(118.6,786.9) rotate(-90)" text-anchor="middle" font-family="Liberation Serif, serif" font-weight="bold" font-size="73.7">Velocity (m/s)</text>
<text x="1523" y="1069" font-family="Liberation Serif, serif" font-size="72">Bottom heat leak</text>
<g font-family="Liberation Serif, serif" font-size="65" fill="#000">
<line x1="1572" y1="218.5" x2="1736" y2="218.5" stroke="#000" stroke-width="2" stroke-linecap="butt"/>
<text x="1752" y="244.2">1W/m<tspan font-size="46" dy="-27">2</tspan></text>
<line x1="1574" y1="309.5" x2="1736" y2="309.5" stroke="#ff0000" stroke-width="4" stroke-linecap="round" stroke-dasharray="12 6 2 7"/>
<text x="1752" y="335.9">5W/m<tspan font-size="46" dy="-27">2</tspan></text>
<line x1="1574" y1="400.7" x2="1736" y2="400.7" stroke="#00ff00" stroke-width="6" stroke-linecap="round" stroke-dasharray="28 18 3 19"/>
<text x="1752" y="426">10W/m<tspan font-size="46" dy="-27">2</tspan></text>
<line x1="1574" y1="491.8" x2="1736" y2="491.8" stroke="#0000ff" stroke-width="8" stroke-linecap="round" stroke-dasharray="4 38"/>
<text x="1752" y="516.9">20W/m<tspan font-size="46" dy="-27">2</tspan></text>
<line x1="1574" y1="583" x2="1736" y2="583" stroke="#ff00ff" stroke-width="10" stroke-linecap="round" stroke-dasharray="32 30 5 30 5 30"/>
<text x="1752" y="608">50W/m<tspan font-size="46" dy="-27">2</tspan></text>
<line x1="1573" y1="674" x2="1736" y2="674" stroke="#960000" stroke-width="10" stroke-linecap="round" stroke-dasharray="45 59"/>
<text x="1752" y="698.6">100W/m<tspan font-size="46" dy="-27">2</tspan></text>
</g>
</svg>
</body></html>
